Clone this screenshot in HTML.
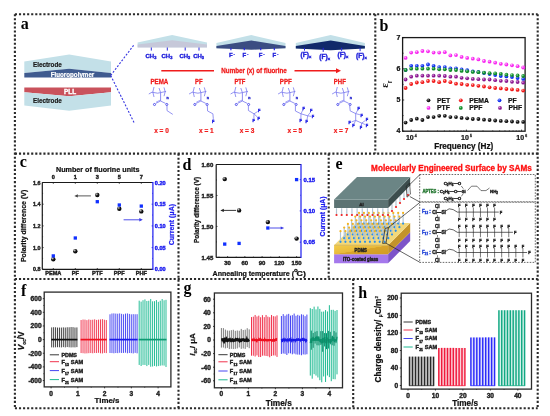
<!DOCTYPE html>
<html><head><meta charset="utf-8"><title>Figure</title>
<style>
html,body{margin:0;padding:0;background:#fff;overflow:hidden;}
svg{display:block;filter:blur(0.25px);}
</style></head><body>
<svg width="550" height="416" viewBox="0 0 550 416">
<defs>
<radialGradient id="sk" cx="0.38" cy="0.35" r="0.65"><stop offset="0" stop-color="#9a9a9a"/><stop offset="0.55" stop-color="#111111"/><stop offset="1" stop-color="#111111"/></radialGradient>
<radialGradient id="sr" cx="0.38" cy="0.35" r="0.65"><stop offset="0" stop-color="#ffb0b0"/><stop offset="0.55" stop-color="#f01818"/><stop offset="1" stop-color="#f01818"/></radialGradient>
<radialGradient id="sb" cx="0.38" cy="0.35" r="0.65"><stop offset="0" stop-color="#a0b0ff"/><stop offset="0.55" stop-color="#1030f0"/><stop offset="1" stop-color="#1030f0"/></radialGradient>
<radialGradient id="sm" cx="0.38" cy="0.35" r="0.65"><stop offset="0" stop-color="#ffc8ff"/><stop offset="0.55" stop-color="#f828f0"/><stop offset="1" stop-color="#f828f0"/></radialGradient>
<radialGradient id="sg" cx="0.38" cy="0.35" r="0.65"><stop offset="0" stop-color="#90e0a0"/><stop offset="0.55" stop-color="#108a28"/><stop offset="1" stop-color="#108a28"/></radialGradient>
<radialGradient id="sp" cx="0.38" cy="0.35" r="0.65"><stop offset="0" stop-color="#e0a0e0"/><stop offset="0.55" stop-color="#8a1890"/><stop offset="1" stop-color="#8a1890"/></radialGradient>
<radialGradient id="sk2" cx="0.35" cy="0.32" r="0.7"><stop offset="0" stop-color="#c8c8c8"/><stop offset="0.5" stop-color="#151515"/><stop offset="1" stop-color="#050505"/></radialGradient>
<linearGradient id="pdf" x1="0" y1="0" x2="1" y2="1"><stop offset="0" stop-color="#f2cc4a"/><stop offset="0.5" stop-color="#e8b93a"/><stop offset="0.52" stop-color="#d9a52a"/><stop offset="1" stop-color="#d29c24"/></linearGradient>
</defs>
<rect width="550" height="416" fill="#fff"/>
<line x1="14.9" y1="14.2" x2="537.7" y2="14.2" stroke="#2a2a2a" stroke-width="2.1" stroke-dasharray="2.1 1.97"/>
<line x1="14.9" y1="153.6" x2="537.7" y2="153.6" stroke="#2a2a2a" stroke-width="2.1" stroke-dasharray="2.1 1.97"/>
<line x1="14.9" y1="279" x2="537.7" y2="279" stroke="#2a2a2a" stroke-width="2.1" stroke-dasharray="2.1 1.97"/>
<line x1="14.9" y1="408.3" x2="537.7" y2="408.3" stroke="#2a2a2a" stroke-width="2.1" stroke-dasharray="2.1 1.97"/>
<line x1="14.9" y1="14.2" x2="14.9" y2="408.3" stroke="#2a2a2a" stroke-width="2.1" stroke-dasharray="2.1 1.97"/>
<line x1="537.7" y1="14.2" x2="537.7" y2="408.3" stroke="#2a2a2a" stroke-width="2.1" stroke-dasharray="2.1 1.97"/>
<line x1="375.3" y1="14.2" x2="375.3" y2="153.6" stroke="#2a2a2a" stroke-width="2.1" stroke-dasharray="2.1 1.97"/>
<line x1="178.5" y1="153.6" x2="178.5" y2="408.3" stroke="#2a2a2a" stroke-width="2.1" stroke-dasharray="2.1 1.97"/>
<line x1="328.7" y1="153.6" x2="328.7" y2="279" stroke="#2a2a2a" stroke-width="2.1" stroke-dasharray="2.1 1.97"/>
<line x1="353.2" y1="279" x2="353.2" y2="408.3" stroke="#2a2a2a" stroke-width="2.1" stroke-dasharray="2.1 1.97"/>
<text x="20.8" y="28.9" font-size="16" fill="#000" font-weight="bold" text-anchor="start" font-family='"Liberation Serif",serif' >a</text>
<text x="379.4" y="30.8" font-size="16" fill="#000" font-weight="bold" text-anchor="start" font-family='"Liberation Serif",serif' >b</text>
<text x="19.8" y="167.2" font-size="16" fill="#000" font-weight="bold" text-anchor="start" font-family='"Liberation Serif",serif' >c</text>
<text x="182.4" y="169.6" font-size="16" fill="#000" font-weight="bold" text-anchor="start" font-family='"Liberation Serif",serif' >d</text>
<text x="335.4" y="169.2" font-size="16" fill="#000" font-weight="bold" text-anchor="start" font-family='"Liberation Serif",serif' >e</text>
<text x="21" y="295.6" font-size="16" fill="#000" font-weight="bold" text-anchor="start" font-family='"Liberation Serif",serif' >f</text>
<text x="183.4" y="292.5" font-size="16" fill="#000" font-weight="bold" text-anchor="start" font-family='"Liberation Serif",serif' >g</text>
<text x="358.3" y="297.8" font-size="16" fill="#000" font-weight="bold" text-anchor="start" font-family='"Liberation Serif",serif' >h</text>
<polygon points="24.3,61.6 69.2,54.6 111,61.6 111,73 69.2,68.7 24.3,73" fill="#c3e0e8" />
<polygon points="24.3,73 69.2,68.7 111,73 111,77.6 24.3,77.6" fill="#3f5b8f" />
<polygon points="24.3,87.4 111,87.4 111,92.3 69.2,96.3 24.3,92.3" fill="#c9525c" />
<polygon points="24.3,92.3 69.2,96.3 111,92.3 111,105.6 69.2,110.8 24.3,105.6" fill="#c3e0e8" />
<text x="33" y="67.3" font-size="7" fill="#1a1a1a" stroke="#1a1a1a" stroke-width="0.22" font-weight="bold" text-anchor="start" font-family='"Liberation Sans",sans-serif' textLength="28.8" lengthAdjust="spacingAndGlyphs">Electrode</text>
<text x="50.7" y="76.6" font-size="7" fill="#fff" stroke="#fff" stroke-width="0.22" font-weight="bold" text-anchor="start" font-family='"Liberation Sans",sans-serif' textLength="43.6" lengthAdjust="spacingAndGlyphs">Fluoropolymer</text>
<text x="64" y="93.9" font-size="6.7" fill="#fff" stroke="#fff" stroke-width="0.4" font-weight="bold" text-anchor="start" font-family='"Liberation Sans",sans-serif' textLength="12.1" lengthAdjust="spacingAndGlyphs">PLL</text>
<text x="33" y="103" font-size="7" fill="#1a1a1a" stroke="#1a1a1a" stroke-width="0.22" font-weight="bold" text-anchor="start" font-family='"Liberation Sans",sans-serif' textLength="28.8" lengthAdjust="spacingAndGlyphs">Electrode</text>
<line x1="110.7" y1="75.5" x2="133.6" y2="45.3" stroke="#3535e0" stroke-width="1.1" stroke-dasharray="2 1.6"/>
<line x1="110.7" y1="75.5" x2="134.3" y2="123" stroke="#3535e0" stroke-width="1.1" stroke-dasharray="2 1.6"/>
<polygon points="137.6,42.4 172.1,35.1 207,42.4 207,47.3 137.6,47.3" fill="#c3e0e8" />
<polygon points="137.6,44.6 172.1,40.2 207,44.6 207,47.5 137.6,47.5" fill="#c6c8d9" />
<line x1="151.3" y1="47.5" x2="151.3" y2="50.6" stroke="#2626dc" stroke-width="1" />
<text x="150.9" y="57.7" font-size="6" fill="#2626dc" stroke="#2626dc" stroke-width="0.4" font-weight="bold" text-anchor="middle" font-family='"Liberation Sans",sans-serif' >CH<tspan font-size="3.9" dy="1">3</tspan></text>
<line x1="167.3" y1="47.5" x2="167.3" y2="50.6" stroke="#2626dc" stroke-width="1" />
<text x="166.9" y="57.7" font-size="6" fill="#2626dc" stroke="#2626dc" stroke-width="0.4" font-weight="bold" text-anchor="middle" font-family='"Liberation Sans",sans-serif' >CH<tspan font-size="3.9" dy="1">3</tspan></text>
<line x1="185.2" y1="47.5" x2="185.2" y2="50.6" stroke="#2626dc" stroke-width="1" />
<text x="184.8" y="57.7" font-size="6" fill="#2626dc" stroke="#2626dc" stroke-width="0.4" font-weight="bold" text-anchor="middle" font-family='"Liberation Sans",sans-serif' >CH<tspan font-size="3.9" dy="1">3</tspan></text>
<line x1="199" y1="47.5" x2="199" y2="50.6" stroke="#2626dc" stroke-width="1" />
<text x="198.6" y="57.7" font-size="6" fill="#2626dc" stroke="#2626dc" stroke-width="0.4" font-weight="bold" text-anchor="middle" font-family='"Liberation Sans",sans-serif' >CH<tspan font-size="3.9" dy="1">3</tspan></text>
<polygon points="216.4,43.1 251.3,35.1 285.5,43.1 285.5,48.2 216.4,48.2" fill="#c3e0e8" />
<polygon points="216.4,46 251.3,40.5 285.5,46 285.5,48.3 251.3,49.8 216.4,48.3" fill="#3b4d82" />
<line x1="230.9" y1="47.8" x2="230.9" y2="50.2" stroke="#2626dc" stroke-width="1.2" />
<text x="230.9" y="56.6" font-size="6" fill="#2626dc" stroke="#2626dc" stroke-width="0.4" font-weight="bold" text-anchor="middle" font-family='"Liberation Sans",sans-serif' >F</text>
<text x="234.2" y="54.6" font-size="4.2" fill="#6a6af0" stroke="#6a6af0" stroke-width="0.4" font-weight="bold" text-anchor="middle" font-family='"Liberation Sans",sans-serif' >-</text>
<line x1="244.3" y1="47.8" x2="244.3" y2="50.2" stroke="#2626dc" stroke-width="1.2" />
<text x="244.3" y="56.6" font-size="6" fill="#2626dc" stroke="#2626dc" stroke-width="0.4" font-weight="bold" text-anchor="middle" font-family='"Liberation Sans",sans-serif' >F</text>
<text x="247.6" y="54.6" font-size="4.2" fill="#6a6af0" stroke="#6a6af0" stroke-width="0.4" font-weight="bold" text-anchor="middle" font-family='"Liberation Sans",sans-serif' >-</text>
<line x1="260.7" y1="47.8" x2="260.7" y2="50.2" stroke="#2626dc" stroke-width="1.2" />
<text x="260.7" y="56.6" font-size="6" fill="#2626dc" stroke="#2626dc" stroke-width="0.4" font-weight="bold" text-anchor="middle" font-family='"Liberation Sans",sans-serif' >F</text>
<text x="264" y="54.6" font-size="4.2" fill="#6a6af0" stroke="#6a6af0" stroke-width="0.4" font-weight="bold" text-anchor="middle" font-family='"Liberation Sans",sans-serif' >-</text>
<line x1="274.3" y1="47.8" x2="274.3" y2="50.2" stroke="#2626dc" stroke-width="1.2" />
<text x="274.3" y="56.6" font-size="6" fill="#2626dc" stroke="#2626dc" stroke-width="0.4" font-weight="bold" text-anchor="middle" font-family='"Liberation Sans",sans-serif' >F</text>
<text x="277.6" y="54.6" font-size="4.2" fill="#6a6af0" stroke="#6a6af0" stroke-width="0.4" font-weight="bold" text-anchor="middle" font-family='"Liberation Sans",sans-serif' >-</text>
<polygon points="295.8,43.1 330.7,35.1 364.9,43.1 364.9,48.4 295.8,48.4" fill="#c3e0e8" />
<polygon points="295.8,46 330.7,40.5 364.9,46 364.9,48.6 330.7,50.2 295.8,48.6" fill="#11296a" />
<line x1="304.5" y1="47.8" x2="304.5" y2="50.6" stroke="#2626dc" stroke-width="1" />
<text x="305.9" y="56.6" font-size="6.6" fill="#2626dc" stroke="#2626dc" stroke-width="0.4" font-weight="bold" text-anchor="middle" font-family='"Liberation Sans",sans-serif' >(F)<tspan font-size="4.2" dy="1.2">x</tspan></text>
<line x1="323.2" y1="47.8" x2="323.2" y2="51.9" stroke="#2626dc" stroke-width="1" />
<text x="324.6" y="59.2" font-size="6.6" fill="#2626dc" stroke="#2626dc" stroke-width="0.4" font-weight="bold" text-anchor="middle" font-family='"Liberation Sans",sans-serif' >(F)<tspan font-size="4.2" dy="1.2">x</tspan></text>
<line x1="341.6" y1="47.8" x2="341.6" y2="50.9" stroke="#2626dc" stroke-width="1" />
<text x="343" y="57.2" font-size="6.6" fill="#2626dc" stroke="#2626dc" stroke-width="0.4" font-weight="bold" text-anchor="middle" font-family='"Liberation Sans",sans-serif' >(F)<tspan font-size="4.2" dy="1.2">x</tspan></text>
<line x1="360.1" y1="47.8" x2="360.1" y2="51.2" stroke="#2626dc" stroke-width="1" />
<text x="361.5" y="57.8" font-size="6.6" fill="#2626dc" stroke="#2626dc" stroke-width="0.4" font-weight="bold" text-anchor="middle" font-family='"Liberation Sans",sans-serif' >(F)<tspan font-size="4.2" dy="1.2">x</tspan></text>
<line x1="161.3" y1="70.8" x2="214" y2="70.8" stroke="#f01c1c" stroke-width="1.4" />
<text x="221.3" y="72.6" font-size="7.3" fill="#f01c1c" stroke="#f01c1c" font-weight="bold" text-anchor="start" font-family='"Liberation Sans",sans-serif' textLength="65.5" lengthAdjust="spacingAndGlyphs" stroke-width="0.3">Number (x) of fluorine</text>
<line x1="294.5" y1="70.8" x2="337" y2="70.8" stroke="#f01c1c" stroke-width="1.4" />
<polygon points="336,68.3 341,70.8 336,73.3" fill="#f01c1c" />
<text x="150.45" y="84.2" font-size="7.2" fill="#f01c1c" stroke="#f01c1c" font-weight="bold" text-anchor="start" font-family='"Liberation Sans",sans-serif' textLength="17.9" lengthAdjust="spacingAndGlyphs" stroke-width="0.3">PEMA</text>
<text x="195.05" y="84.2" font-size="7.2" fill="#f01c1c" stroke="#f01c1c" font-weight="bold" text-anchor="start" font-family='"Liberation Sans",sans-serif' textLength="7.5" lengthAdjust="spacingAndGlyphs" stroke-width="0.3">PF</text>
<text x="234.4" y="84.2" font-size="7.2" fill="#f01c1c" stroke="#f01c1c" font-weight="bold" text-anchor="start" font-family='"Liberation Sans",sans-serif' textLength="11" lengthAdjust="spacingAndGlyphs" stroke-width="0.3">PTF</text>
<text x="279.8" y="84.2" font-size="7.2" fill="#f01c1c" stroke="#f01c1c" font-weight="bold" text-anchor="start" font-family='"Liberation Sans",sans-serif' textLength="12" lengthAdjust="spacingAndGlyphs" stroke-width="0.3">PPF</text>
<text x="333.8" y="84.2" font-size="7.2" fill="#f01c1c" stroke="#f01c1c" font-weight="bold" text-anchor="start" font-family='"Liberation Sans",sans-serif' textLength="12" lengthAdjust="spacingAndGlyphs" stroke-width="0.3">PHF</text>
<text x="161.5" y="133.1" font-size="6.5" fill="#f01c1c" stroke="#f01c1c" font-weight="bold" text-anchor="middle" font-family='"Liberation Sans",sans-serif' stroke-width="0.2">x = 0</text>
<text x="206.3" y="133.1" font-size="6.5" fill="#f01c1c" stroke="#f01c1c" font-weight="bold" text-anchor="middle" font-family='"Liberation Sans",sans-serif' stroke-width="0.2">x = 1</text>
<text x="247" y="133.1" font-size="6.5" fill="#f01c1c" stroke="#f01c1c" font-weight="bold" text-anchor="middle" font-family='"Liberation Sans",sans-serif' stroke-width="0.2">x = 3</text>
<text x="294.8" y="133.1" font-size="6.5" fill="#f01c1c" stroke="#f01c1c" font-weight="bold" text-anchor="middle" font-family='"Liberation Sans",sans-serif' stroke-width="0.2">x = 5</text>
<text x="341" y="133.1" font-size="6.5" fill="#f01c1c" stroke="#f01c1c" font-weight="bold" text-anchor="middle" font-family='"Liberation Sans",sans-serif' stroke-width="0.2">x = 7</text>
<polyline points="148.8,94 152,92.2 157.6,93.2 160.6,92.6 166.1,91.4" fill="none" stroke="#7070ee" stroke-width="0.75" />
<line x1="159" y1="88" x2="160.6" y2="92.6" stroke="#7070ee" stroke-width="0.75" />
<path d="M154,87 q-2.4,5 0,10" fill="none" stroke="#7070ee" stroke-width="0.75"/>
<path d="M164,87.4 q2.4,4.4 0,8.8" fill="none" stroke="#7070ee" stroke-width="0.75"/>
<text x="166.4" y="98.6" font-size="3.6" fill="#3030d0" stroke="#3030d0" stroke-width="0.4" font-weight="bold" text-anchor="start" font-family='"Liberation Sans",sans-serif' >n</text>
<line x1="160.6" y1="92.6" x2="160.6" y2="101" stroke="#7070ee" stroke-width="0.8" />
<line x1="160.6" y1="101" x2="155.8" y2="103.4" stroke="#7070ee" stroke-width="0.75" />
<line x1="160.2" y1="100.1" x2="156" y2="102.2" stroke="#7070ee" stroke-width="0.6" />
<line x1="160.6" y1="101" x2="165.5" y2="103.4" stroke="#7070ee" stroke-width="0.75" />
<circle cx="154.5" cy="104.5" r="1.05" fill="none" stroke="#3c3ce8" stroke-width="0.85"/>
<circle cx="166.8" cy="104.5" r="1.05" fill="none" stroke="#3c3ce8" stroke-width="0.85"/>
<polyline points="167,105.8 167,110.6 172.8,114.4" fill="none" stroke="#7070ee" stroke-width="0.75" />
<polyline points="189.1,94 192.3,92.2 197.9,93.2 200.9,92.6 206.4,91.4" fill="none" stroke="#7070ee" stroke-width="0.75" />
<line x1="199.3" y1="88" x2="200.9" y2="92.6" stroke="#7070ee" stroke-width="0.75" />
<path d="M194.3,87 q-2.4,5 0,10" fill="none" stroke="#7070ee" stroke-width="0.75"/>
<path d="M204.3,87.4 q2.4,4.4 0,8.8" fill="none" stroke="#7070ee" stroke-width="0.75"/>
<text x="206.7" y="98.6" font-size="3.6" fill="#3030d0" stroke="#3030d0" stroke-width="0.4" font-weight="bold" text-anchor="start" font-family='"Liberation Sans",sans-serif' >n</text>
<line x1="200.9" y1="92.6" x2="200.9" y2="101" stroke="#7070ee" stroke-width="0.8" />
<line x1="200.9" y1="101" x2="196.1" y2="103.4" stroke="#7070ee" stroke-width="0.75" />
<line x1="200.5" y1="100.1" x2="196.3" y2="102.2" stroke="#7070ee" stroke-width="0.6" />
<line x1="200.9" y1="101" x2="205.8" y2="103.4" stroke="#7070ee" stroke-width="0.75" />
<circle cx="194.8" cy="104.5" r="1.05" fill="none" stroke="#3c3ce8" stroke-width="0.85"/>
<circle cx="207.1" cy="104.5" r="1.05" fill="none" stroke="#3c3ce8" stroke-width="0.85"/>
<polyline points="207.3,105.8 207.6,111 212.9,113.8 213.3,118.6" fill="none" stroke="#7070ee" stroke-width="0.75" />
<line x1="213.3" y1="118.6" x2="213.16" y2="120.35" stroke="#7070ee" stroke-width="0.7" />
<text x="213.1" y="122.5" font-size="3.9" fill="#2424e6" stroke="#2424e6" stroke-width="0.4" font-weight="bold" text-anchor="middle" font-family='"Liberation Sans",sans-serif' >F</text>
<polyline points="230.6,94 233.8,92.2 239.4,93.2 242.4,92.6 247.9,91.4" fill="none" stroke="#7070ee" stroke-width="0.75" />
<line x1="240.8" y1="88" x2="242.4" y2="92.6" stroke="#7070ee" stroke-width="0.75" />
<path d="M235.8,87 q-2.4,5 0,10" fill="none" stroke="#7070ee" stroke-width="0.75"/>
<path d="M245.8,87.4 q2.4,4.4 0,8.8" fill="none" stroke="#7070ee" stroke-width="0.75"/>
<text x="248.2" y="98.6" font-size="3.6" fill="#3030d0" stroke="#3030d0" stroke-width="0.4" font-weight="bold" text-anchor="start" font-family='"Liberation Sans",sans-serif' >n</text>
<line x1="242.4" y1="92.6" x2="242.4" y2="101" stroke="#7070ee" stroke-width="0.8" />
<line x1="242.4" y1="101" x2="237.6" y2="103.4" stroke="#7070ee" stroke-width="0.75" />
<line x1="242" y1="100.1" x2="237.8" y2="102.2" stroke="#7070ee" stroke-width="0.6" />
<line x1="242.4" y1="101" x2="247.3" y2="103.4" stroke="#7070ee" stroke-width="0.75" />
<circle cx="236.3" cy="104.5" r="1.05" fill="none" stroke="#3c3ce8" stroke-width="0.85"/>
<circle cx="248.6" cy="104.5" r="1.05" fill="none" stroke="#3c3ce8" stroke-width="0.85"/>
<polyline points="248.4,105.8 248.4,110.5 254,113.8" fill="none" stroke="#7070ee" stroke-width="0.75" />
<line x1="254" y1="113.8" x2="257.71" y2="111.49" stroke="#7070ee" stroke-width="0.7" />
<text x="259.3" y="111.9" font-size="3.9" fill="#2424e6" stroke="#2424e6" stroke-width="0.4" font-weight="bold" text-anchor="middle" font-family='"Liberation Sans",sans-serif' >F</text>
<line x1="254" y1="113.8" x2="257.22" y2="116.88" stroke="#7070ee" stroke-width="0.7" />
<text x="258.6" y="119.6" font-size="3.9" fill="#2424e6" stroke="#2424e6" stroke-width="0.4" font-weight="bold" text-anchor="middle" font-family='"Liberation Sans",sans-serif' >F</text>
<line x1="254" y1="113.8" x2="253.86" y2="118.21" stroke="#7070ee" stroke-width="0.7" />
<text x="253.8" y="121.5" font-size="3.9" fill="#2424e6" stroke="#2424e6" stroke-width="0.4" font-weight="bold" text-anchor="middle" font-family='"Liberation Sans",sans-serif' >F</text>
<polyline points="278.1,94 281.3,92.2 286.9,93.2 289.9,92.6 295.4,91.4" fill="none" stroke="#7070ee" stroke-width="0.75" />
<line x1="288.3" y1="88" x2="289.9" y2="92.6" stroke="#7070ee" stroke-width="0.75" />
<path d="M283.3,87 q-2.4,5 0,10" fill="none" stroke="#7070ee" stroke-width="0.75"/>
<path d="M293.3,87.4 q2.4,4.4 0,8.8" fill="none" stroke="#7070ee" stroke-width="0.75"/>
<text x="295.7" y="98.6" font-size="3.6" fill="#3030d0" stroke="#3030d0" stroke-width="0.4" font-weight="bold" text-anchor="start" font-family='"Liberation Sans",sans-serif' >n</text>
<line x1="289.9" y1="92.6" x2="289.9" y2="101" stroke="#7070ee" stroke-width="0.8" />
<line x1="289.9" y1="101" x2="285.1" y2="103.4" stroke="#7070ee" stroke-width="0.75" />
<line x1="289.5" y1="100.1" x2="285.3" y2="102.2" stroke="#7070ee" stroke-width="0.6" />
<line x1="289.9" y1="101" x2="294.8" y2="103.4" stroke="#7070ee" stroke-width="0.75" />
<circle cx="283.8" cy="104.5" r="1.05" fill="none" stroke="#3c3ce8" stroke-width="0.85"/>
<circle cx="296.1" cy="104.5" r="1.05" fill="none" stroke="#3c3ce8" stroke-width="0.85"/>
<polyline points="295.4,105.8 295.4,111 301,113.8 307.7,115.8" fill="none" stroke="#7070ee" stroke-width="0.75" />
<line x1="301" y1="113.8" x2="302.89" y2="109.81" stroke="#7070ee" stroke-width="0.7" />
<text x="303.7" y="109.5" font-size="3.9" fill="#2424e6" stroke="#2424e6" stroke-width="0.4" font-weight="bold" text-anchor="middle" font-family='"Liberation Sans",sans-serif' >F</text>
<line x1="301" y1="113.8" x2="300.86" y2="118.56" stroke="#7070ee" stroke-width="0.7" />
<text x="300.8" y="122" font-size="3.9" fill="#2424e6" stroke="#2424e6" stroke-width="0.4" font-weight="bold" text-anchor="middle" font-family='"Liberation Sans",sans-serif' >F</text>
<line x1="307.7" y1="115.8" x2="310.22" y2="112.44" stroke="#7070ee" stroke-width="0.7" />
<text x="311.3" y="112.4" font-size="3.9" fill="#2424e6" stroke="#2424e6" stroke-width="0.4" font-weight="bold" text-anchor="middle" font-family='"Liberation Sans",sans-serif' >F</text>
<line x1="307.7" y1="115.8" x2="311.41" y2="116.43" stroke="#7070ee" stroke-width="0.7" />
<text x="313" y="118.1" font-size="3.9" fill="#2424e6" stroke="#2424e6" stroke-width="0.4" font-weight="bold" text-anchor="middle" font-family='"Liberation Sans",sans-serif' >F</text>
<line x1="307.7" y1="115.8" x2="307" y2="119.79" stroke="#7070ee" stroke-width="0.7" />
<text x="306.7" y="122.9" font-size="3.9" fill="#2424e6" stroke="#2424e6" stroke-width="0.4" font-weight="bold" text-anchor="middle" font-family='"Liberation Sans",sans-serif' >F</text>
<polyline points="332.1,94 335.3,92.2 340.9,93.2 343.9,92.6 349.4,91.4" fill="none" stroke="#7070ee" stroke-width="0.75" />
<line x1="342.3" y1="88" x2="343.9" y2="92.6" stroke="#7070ee" stroke-width="0.75" />
<path d="M337.3,87 q-2.4,5 0,10" fill="none" stroke="#7070ee" stroke-width="0.75"/>
<path d="M347.3,87.4 q2.4,4.4 0,8.8" fill="none" stroke="#7070ee" stroke-width="0.75"/>
<text x="349.7" y="98.6" font-size="3.6" fill="#3030d0" stroke="#3030d0" stroke-width="0.4" font-weight="bold" text-anchor="start" font-family='"Liberation Sans",sans-serif' >n</text>
<line x1="343.9" y1="92.6" x2="343.9" y2="101" stroke="#7070ee" stroke-width="0.8" />
<line x1="343.9" y1="101" x2="339.1" y2="103.4" stroke="#7070ee" stroke-width="0.75" />
<line x1="343.5" y1="100.1" x2="339.3" y2="102.2" stroke="#7070ee" stroke-width="0.6" />
<line x1="343.9" y1="101" x2="348.8" y2="103.4" stroke="#7070ee" stroke-width="0.75" />
<circle cx="337.8" cy="104.5" r="1.05" fill="none" stroke="#3c3ce8" stroke-width="0.85"/>
<circle cx="350.1" cy="104.5" r="1.05" fill="none" stroke="#3c3ce8" stroke-width="0.85"/>
<polyline points="349.7,105.8 350.2,110.9 355.7,113.6 355.7,120.4 361.7,123.1" fill="none" stroke="#7070ee" stroke-width="0.75" />
<line x1="355.7" y1="113.6" x2="357.8" y2="109.89" stroke="#7070ee" stroke-width="0.7" />
<text x="358.7" y="109.7" font-size="3.9" fill="#2424e6" stroke="#2424e6" stroke-width="0.4" font-weight="bold" text-anchor="middle" font-family='"Liberation Sans",sans-serif' >F</text>
<line x1="355.7" y1="113.6" x2="359.9" y2="114.72" stroke="#7070ee" stroke-width="0.7" />
<text x="361.7" y="116.6" font-size="3.9" fill="#2424e6" stroke="#2424e6" stroke-width="0.4" font-weight="bold" text-anchor="middle" font-family='"Liberation Sans",sans-serif' >F</text>
<line x1="355.7" y1="120.4" x2="351.5" y2="121.94" stroke="#7070ee" stroke-width="0.7" />
<text x="349.7" y="124" font-size="3.9" fill="#2424e6" stroke="#2424e6" stroke-width="0.4" font-weight="bold" text-anchor="middle" font-family='"Liberation Sans",sans-serif' >F</text>
<line x1="355.7" y1="120.4" x2="354.09" y2="123.76" stroke="#7070ee" stroke-width="0.7" />
<text x="353.4" y="126.6" font-size="3.9" fill="#2424e6" stroke="#2424e6" stroke-width="0.4" font-weight="bold" text-anchor="middle" font-family='"Liberation Sans",sans-serif' >F</text>
<line x1="361.7" y1="123.1" x2="365.34" y2="120.51" stroke="#7070ee" stroke-width="0.7" />
<text x="366.9" y="120.8" font-size="3.9" fill="#2424e6" stroke="#2424e6" stroke-width="0.4" font-weight="bold" text-anchor="middle" font-family='"Liberation Sans",sans-serif' >F</text>
<line x1="361.7" y1="123.1" x2="365.34" y2="124.57" stroke="#7070ee" stroke-width="0.7" />
<text x="366.9" y="126.6" font-size="3.9" fill="#2424e6" stroke="#2424e6" stroke-width="0.4" font-weight="bold" text-anchor="middle" font-family='"Liberation Sans",sans-serif' >F</text>
<line x1="361.7" y1="123.1" x2="361.21" y2="126.46" stroke="#7070ee" stroke-width="0.7" />
<text x="361" y="129.3" font-size="3.9" fill="#2424e6" stroke="#2424e6" stroke-width="0.4" font-weight="bold" text-anchor="middle" font-family='"Liberation Sans",sans-serif' >F</text>
<rect x="402.6" y="37.6" width="122.5" height="93.6" fill="none" stroke="#1a1a1a" stroke-width="1.3"/>
<text x="400.4" y="133.4" font-size="7" fill="#111" stroke="#111" stroke-width="0.22" font-weight="bold" text-anchor="end" font-family='"Liberation Sans",sans-serif' >4</text>
<line x1="402.6" y1="131.2" x2="404.2" y2="131.2" stroke="#111" stroke-width="0.8" />
<text x="400.4" y="102.2" font-size="7" fill="#111" stroke="#111" stroke-width="0.22" font-weight="bold" text-anchor="end" font-family='"Liberation Sans",sans-serif' >5</text>
<line x1="402.6" y1="100" x2="404.2" y2="100" stroke="#111" stroke-width="0.8" />
<text x="400.4" y="71" font-size="7" fill="#111" stroke="#111" stroke-width="0.22" font-weight="bold" text-anchor="end" font-family='"Liberation Sans",sans-serif' >6</text>
<line x1="402.6" y1="68.8" x2="404.2" y2="68.8" stroke="#111" stroke-width="0.8" />
<text x="400.4" y="39.8" font-size="7" fill="#111" stroke="#111" stroke-width="0.22" font-weight="bold" text-anchor="end" font-family='"Liberation Sans",sans-serif' >7</text>
<line x1="402.6" y1="37.6" x2="404.2" y2="37.6" stroke="#111" stroke-width="0.8" />
<line x1="402.6" y1="115.6" x2="403.6" y2="115.6" stroke="#111" stroke-width="0.7" />
<line x1="402.6" y1="84.4" x2="403.6" y2="84.4" stroke="#111" stroke-width="0.7" />
<line x1="402.6" y1="53.2" x2="403.6" y2="53.2" stroke="#111" stroke-width="0.7" />
<line x1="411.2" y1="131.2" x2="411.2" y2="129.6" stroke="#111" stroke-width="0.8" />
<text x="409.8" y="140" font-size="7" fill="#111" stroke="#111" stroke-width="0.22" font-weight="bold" text-anchor="middle" font-family='"Liberation Sans",sans-serif' >10</text>
<text x="415.8" y="136.6" font-size="3.4" fill="#444" stroke="#444" stroke-width="0.4" font-weight="bold" text-anchor="middle" font-family='"Liberation Sans",sans-serif' >4</text>
<line x1="466.4" y1="131.2" x2="466.4" y2="129.6" stroke="#111" stroke-width="0.8" />
<text x="465" y="140" font-size="7" fill="#111" stroke="#111" stroke-width="0.22" font-weight="bold" text-anchor="middle" font-family='"Liberation Sans",sans-serif' >10</text>
<text x="471" y="136.6" font-size="3.4" fill="#444" stroke="#444" stroke-width="0.4" font-weight="bold" text-anchor="middle" font-family='"Liberation Sans",sans-serif' >5</text>
<line x1="521.6" y1="131.2" x2="521.6" y2="129.6" stroke="#111" stroke-width="0.8" />
<text x="520.2" y="140" font-size="7" fill="#111" stroke="#111" stroke-width="0.22" font-weight="bold" text-anchor="middle" font-family='"Liberation Sans",sans-serif' >10</text>
<text x="526.2" y="136.6" font-size="3.4" fill="#444" stroke="#444" stroke-width="0.4" font-weight="bold" text-anchor="middle" font-family='"Liberation Sans",sans-serif' >6</text>
<line x1="427.82" y1="131.2" x2="427.82" y2="130.3" stroke="#111" stroke-width="0.6" />
<line x1="437.54" y1="131.2" x2="437.54" y2="130.3" stroke="#111" stroke-width="0.6" />
<line x1="444.43" y1="131.2" x2="444.43" y2="130.3" stroke="#111" stroke-width="0.6" />
<line x1="449.78" y1="131.2" x2="449.78" y2="130.3" stroke="#111" stroke-width="0.6" />
<line x1="454.15" y1="131.2" x2="454.15" y2="130.3" stroke="#111" stroke-width="0.6" />
<line x1="457.85" y1="131.2" x2="457.85" y2="130.3" stroke="#111" stroke-width="0.6" />
<line x1="461.05" y1="131.2" x2="461.05" y2="130.3" stroke="#111" stroke-width="0.6" />
<line x1="463.87" y1="131.2" x2="463.87" y2="130.3" stroke="#111" stroke-width="0.6" />
<line x1="483.02" y1="131.2" x2="483.02" y2="130.3" stroke="#111" stroke-width="0.6" />
<line x1="492.74" y1="131.2" x2="492.74" y2="130.3" stroke="#111" stroke-width="0.6" />
<line x1="499.63" y1="131.2" x2="499.63" y2="130.3" stroke="#111" stroke-width="0.6" />
<line x1="504.98" y1="131.2" x2="504.98" y2="130.3" stroke="#111" stroke-width="0.6" />
<line x1="509.35" y1="131.2" x2="509.35" y2="130.3" stroke="#111" stroke-width="0.6" />
<line x1="513.05" y1="131.2" x2="513.05" y2="130.3" stroke="#111" stroke-width="0.6" />
<line x1="516.25" y1="131.2" x2="516.25" y2="130.3" stroke="#111" stroke-width="0.6" />
<line x1="519.07" y1="131.2" x2="519.07" y2="130.3" stroke="#111" stroke-width="0.6" />
<text x="463.7" y="148.6" font-size="8.2" fill="#111" stroke="#111" stroke-width="0.22" font-weight="bold" text-anchor="middle" font-family='"Liberation Sans",sans-serif' >Frequency (Hz)</text>
<text transform="translate(388.3,84.2) rotate(-90)" font-family='"Liberation Serif",serif' font-size="10.5" font-weight="bold" fill="#111" text-anchor="middle">ε<tspan font-size="7" dy="3.2" font-family='"Liberation Sans",sans-serif' font-weight="bold">r</tspan></text>
<circle cx="405.6" cy="122.6" r="1.9" fill="url(#sk)"/>
<circle cx="411.2" cy="120" r="1.9" fill="url(#sk)"/>
<circle cx="416.8" cy="118.7" r="1.9" fill="url(#sk)"/>
<circle cx="422.4" cy="120" r="1.9" fill="url(#sk)"/>
<circle cx="428" cy="117.1" r="1.9" fill="url(#sk)"/>
<circle cx="433.6" cy="117.1" r="1.9" fill="url(#sk)"/>
<circle cx="439.2" cy="115.8" r="1.9" fill="url(#sk)"/>
<circle cx="444.8" cy="115.8" r="1.9" fill="url(#sk)"/>
<circle cx="450.4" cy="117.1" r="1.9" fill="url(#sk)"/>
<circle cx="456" cy="117.1" r="1.9" fill="url(#sk)"/>
<circle cx="461.6" cy="117.9" r="1.9" fill="url(#sk)"/>
<circle cx="467.2" cy="118.3" r="1.9" fill="url(#sk)"/>
<circle cx="472.8" cy="119" r="1.9" fill="url(#sk)"/>
<circle cx="478.4" cy="119" r="1.9" fill="url(#sk)"/>
<circle cx="484" cy="119.7" r="1.9" fill="url(#sk)"/>
<circle cx="489.6" cy="120" r="1.9" fill="url(#sk)"/>
<circle cx="495.2" cy="120.5" r="1.9" fill="url(#sk)"/>
<circle cx="500.8" cy="120.9" r="1.9" fill="url(#sk)"/>
<circle cx="506.4" cy="121.2" r="1.9" fill="url(#sk)"/>
<circle cx="512" cy="121.5" r="1.9" fill="url(#sk)"/>
<circle cx="517.6" cy="121.9" r="1.9" fill="url(#sk)"/>
<circle cx="523.2" cy="121.9" r="1.9" fill="url(#sk)"/>
<circle cx="405.6" cy="88" r="1.9" fill="url(#sr)"/>
<circle cx="411.2" cy="84" r="1.9" fill="url(#sr)"/>
<circle cx="416.8" cy="82.5" r="1.9" fill="url(#sr)"/>
<circle cx="422.4" cy="82.2" r="1.9" fill="url(#sr)"/>
<circle cx="428" cy="81" r="1.9" fill="url(#sr)"/>
<circle cx="433.6" cy="81" r="1.9" fill="url(#sr)"/>
<circle cx="439.2" cy="82.2" r="1.9" fill="url(#sr)"/>
<circle cx="444.8" cy="81" r="1.9" fill="url(#sr)"/>
<circle cx="450.4" cy="82.2" r="1.9" fill="url(#sr)"/>
<circle cx="456" cy="83.7" r="1.9" fill="url(#sr)"/>
<circle cx="461.6" cy="84" r="1.9" fill="url(#sr)"/>
<circle cx="467.2" cy="84.8" r="1.9" fill="url(#sr)"/>
<circle cx="472.8" cy="85.1" r="1.9" fill="url(#sr)"/>
<circle cx="478.4" cy="85.8" r="1.9" fill="url(#sr)"/>
<circle cx="484" cy="86.5" r="1.9" fill="url(#sr)"/>
<circle cx="489.6" cy="87.3" r="1.9" fill="url(#sr)"/>
<circle cx="495.2" cy="88" r="1.9" fill="url(#sr)"/>
<circle cx="500.8" cy="88.4" r="1.9" fill="url(#sr)"/>
<circle cx="506.4" cy="89" r="1.9" fill="url(#sr)"/>
<circle cx="512" cy="89.4" r="1.9" fill="url(#sr)"/>
<circle cx="517.6" cy="89.9" r="1.9" fill="url(#sr)"/>
<circle cx="523.2" cy="90.6" r="1.9" fill="url(#sr)"/>
<circle cx="405.6" cy="70" r="1.9" fill="url(#sb)"/>
<circle cx="411.2" cy="65.8" r="1.9" fill="url(#sb)"/>
<circle cx="416.8" cy="65.8" r="1.9" fill="url(#sb)"/>
<circle cx="422.4" cy="65.8" r="1.9" fill="url(#sb)"/>
<circle cx="428" cy="64.5" r="1.9" fill="url(#sb)"/>
<circle cx="433.6" cy="65.8" r="1.9" fill="url(#sb)"/>
<circle cx="439.2" cy="67.1" r="1.9" fill="url(#sb)"/>
<circle cx="444.8" cy="67.1" r="1.9" fill="url(#sb)"/>
<circle cx="450.4" cy="68.3" r="1.9" fill="url(#sb)"/>
<circle cx="456" cy="68.3" r="1.9" fill="url(#sb)"/>
<circle cx="461.6" cy="69.4" r="1.9" fill="url(#sb)"/>
<circle cx="467.2" cy="70.2" r="1.9" fill="url(#sb)"/>
<circle cx="472.8" cy="71.3" r="1.9" fill="url(#sb)"/>
<circle cx="478.4" cy="72" r="1.9" fill="url(#sb)"/>
<circle cx="484" cy="73" r="1.9" fill="url(#sb)"/>
<circle cx="489.6" cy="74" r="1.9" fill="url(#sb)"/>
<circle cx="495.2" cy="75.1" r="1.9" fill="url(#sb)"/>
<circle cx="500.8" cy="76" r="1.9" fill="url(#sb)"/>
<circle cx="506.4" cy="76.4" r="1.9" fill="url(#sb)"/>
<circle cx="512" cy="77" r="1.9" fill="url(#sb)"/>
<circle cx="517.6" cy="78" r="1.9" fill="url(#sb)"/>
<circle cx="523.2" cy="78.9" r="1.9" fill="url(#sb)"/>
<circle cx="405.6" cy="57.9" r="1.9" fill="url(#sm)"/>
<circle cx="411.2" cy="52.6" r="1.9" fill="url(#sm)"/>
<circle cx="416.8" cy="52.2" r="1.9" fill="url(#sm)"/>
<circle cx="422.4" cy="51" r="1.9" fill="url(#sm)"/>
<circle cx="428" cy="51.3" r="1.9" fill="url(#sm)"/>
<circle cx="433.6" cy="52.6" r="1.9" fill="url(#sm)"/>
<circle cx="439.2" cy="52.6" r="1.9" fill="url(#sm)"/>
<circle cx="444.8" cy="52.2" r="1.9" fill="url(#sm)"/>
<circle cx="450.4" cy="55.4" r="1.9" fill="url(#sm)"/>
<circle cx="456" cy="55.1" r="1.9" fill="url(#sm)"/>
<circle cx="461.6" cy="56.9" r="1.9" fill="url(#sm)"/>
<circle cx="467.2" cy="57.9" r="1.9" fill="url(#sm)"/>
<circle cx="472.8" cy="58.7" r="1.9" fill="url(#sm)"/>
<circle cx="478.4" cy="59.4" r="1.9" fill="url(#sm)"/>
<circle cx="484" cy="61" r="1.9" fill="url(#sm)"/>
<circle cx="489.6" cy="61.7" r="1.9" fill="url(#sm)"/>
<circle cx="495.2" cy="62.7" r="1.9" fill="url(#sm)"/>
<circle cx="500.8" cy="63.8" r="1.9" fill="url(#sm)"/>
<circle cx="506.4" cy="64.5" r="1.9" fill="url(#sm)"/>
<circle cx="512" cy="65.3" r="1.9" fill="url(#sm)"/>
<circle cx="517.6" cy="66.2" r="1.9" fill="url(#sm)"/>
<circle cx="523.2" cy="67.5" r="1.9" fill="url(#sm)"/>
<circle cx="405.6" cy="70" r="1.9" fill="url(#sg)"/>
<circle cx="411.2" cy="68.7" r="1.9" fill="url(#sg)"/>
<circle cx="416.8" cy="68.7" r="1.9" fill="url(#sg)"/>
<circle cx="422.4" cy="68.7" r="1.9" fill="url(#sg)"/>
<circle cx="428" cy="68.7" r="1.9" fill="url(#sg)"/>
<circle cx="433.6" cy="68.7" r="1.9" fill="url(#sg)"/>
<circle cx="439.2" cy="69.3" r="1.9" fill="url(#sg)"/>
<circle cx="444.8" cy="69.3" r="1.9" fill="url(#sg)"/>
<circle cx="450.4" cy="70" r="1.9" fill="url(#sg)"/>
<circle cx="456" cy="70" r="1.9" fill="url(#sg)"/>
<circle cx="461.6" cy="70.9" r="1.9" fill="url(#sg)"/>
<circle cx="467.2" cy="71.3" r="1.9" fill="url(#sg)"/>
<circle cx="472.8" cy="71.9" r="1.9" fill="url(#sg)"/>
<circle cx="478.4" cy="72.2" r="1.9" fill="url(#sg)"/>
<circle cx="484" cy="72.7" r="1.9" fill="url(#sg)"/>
<circle cx="489.6" cy="73.2" r="1.9" fill="url(#sg)"/>
<circle cx="495.2" cy="73.4" r="1.9" fill="url(#sg)"/>
<circle cx="500.8" cy="73.8" r="1.9" fill="url(#sg)"/>
<circle cx="506.4" cy="74.7" r="1.9" fill="url(#sg)"/>
<circle cx="512" cy="75.1" r="1.9" fill="url(#sg)"/>
<circle cx="517.6" cy="75.5" r="1.9" fill="url(#sg)"/>
<circle cx="523.2" cy="76" r="1.9" fill="url(#sg)"/>
<circle cx="405.6" cy="79.5" r="1.9" fill="url(#sp)"/>
<circle cx="411.2" cy="76.7" r="1.9" fill="url(#sp)"/>
<circle cx="416.8" cy="75.7" r="1.9" fill="url(#sp)"/>
<circle cx="422.4" cy="75.7" r="1.9" fill="url(#sp)"/>
<circle cx="428" cy="75.7" r="1.9" fill="url(#sp)"/>
<circle cx="433.6" cy="75.7" r="1.9" fill="url(#sp)"/>
<circle cx="439.2" cy="75.7" r="1.9" fill="url(#sp)"/>
<circle cx="444.8" cy="76" r="1.9" fill="url(#sp)"/>
<circle cx="450.4" cy="76.7" r="1.9" fill="url(#sp)"/>
<circle cx="456" cy="76.7" r="1.9" fill="url(#sp)"/>
<circle cx="461.6" cy="77.8" r="1.9" fill="url(#sp)"/>
<circle cx="467.2" cy="78.3" r="1.9" fill="url(#sp)"/>
<circle cx="472.8" cy="78.9" r="1.9" fill="url(#sp)"/>
<circle cx="478.4" cy="79.2" r="1.9" fill="url(#sp)"/>
<circle cx="484" cy="79.5" r="1.9" fill="url(#sp)"/>
<circle cx="489.6" cy="79.5" r="1.9" fill="url(#sp)"/>
<circle cx="495.2" cy="80.2" r="1.9" fill="url(#sp)"/>
<circle cx="500.8" cy="80.8" r="1.9" fill="url(#sp)"/>
<circle cx="506.4" cy="81" r="1.9" fill="url(#sp)"/>
<circle cx="512" cy="81.8" r="1.9" fill="url(#sp)"/>
<circle cx="517.6" cy="82" r="1.9" fill="url(#sp)"/>
<circle cx="523.2" cy="82.7" r="1.9" fill="url(#sp)"/>
<circle cx="428.5" cy="100.3" r="1.9" fill="url(#sk)"/>
<text x="437" y="102.6" font-size="6.8" fill="#111" stroke="#111" stroke-width="0.22" font-weight="bold" text-anchor="start" font-family='"Liberation Sans",sans-serif' >PET</text>
<circle cx="460.8" cy="100.3" r="1.9" fill="url(#sr)"/>
<text x="469.3" y="102.6" font-size="6.8" fill="#111" stroke="#111" stroke-width="0.22" font-weight="bold" text-anchor="start" font-family='"Liberation Sans",sans-serif' >PEMA</text>
<circle cx="499.5" cy="100.3" r="1.9" fill="url(#sb)"/>
<text x="508" y="102.6" font-size="6.8" fill="#111" stroke="#111" stroke-width="0.22" font-weight="bold" text-anchor="start" font-family='"Liberation Sans",sans-serif' >PF</text>
<circle cx="428.5" cy="107.9" r="1.9" fill="url(#sm)"/>
<text x="437" y="110.2" font-size="6.8" fill="#111" stroke="#111" stroke-width="0.22" font-weight="bold" text-anchor="start" font-family='"Liberation Sans",sans-serif' >PTF</text>
<circle cx="460.8" cy="107.9" r="1.9" fill="url(#sg)"/>
<text x="469.3" y="110.2" font-size="6.8" fill="#111" stroke="#111" stroke-width="0.22" font-weight="bold" text-anchor="start" font-family='"Liberation Sans",sans-serif' >PPF</text>
<circle cx="500" cy="107.9" r="1.9" fill="url(#sp)"/>
<text x="508.5" y="110.2" font-size="6.8" fill="#111" stroke="#111" stroke-width="0.22" font-weight="bold" text-anchor="start" font-family='"Liberation Sans",sans-serif' >PHF</text>
<line x1="42.3" y1="182.5" x2="152.9" y2="182.5" stroke="#1a1a1a" stroke-width="1.2" />
<line x1="42.3" y1="182.5" x2="42.3" y2="269.3" stroke="#1a1a1a" stroke-width="1.2" />
<line x1="42.3" y1="269.3" x2="152.9" y2="269.3" stroke="#1a1a1a" stroke-width="1.2" />
<line x1="152.9" y1="181.9" x2="152.9" y2="269.9" stroke="#1c1cf0" stroke-width="1.2" />
<line x1="42.3" y1="269.3" x2="43.6" y2="269.3" stroke="#1a1a1a" stroke-width="0.8" />
<text x="40.4" y="271.3" font-size="5.4" fill="#222" stroke="#222" stroke-width="0.4" font-weight="bold" text-anchor="end" font-family='"Liberation Sans",sans-serif' >0.8</text>
<line x1="42.3" y1="247.6" x2="43.6" y2="247.6" stroke="#1a1a1a" stroke-width="0.8" />
<text x="40.4" y="249.6" font-size="5.4" fill="#222" stroke="#222" stroke-width="0.4" font-weight="bold" text-anchor="end" font-family='"Liberation Sans",sans-serif' >1.0</text>
<line x1="42.3" y1="225.9" x2="43.6" y2="225.9" stroke="#1a1a1a" stroke-width="0.8" />
<text x="40.4" y="227.9" font-size="5.4" fill="#222" stroke="#222" stroke-width="0.4" font-weight="bold" text-anchor="end" font-family='"Liberation Sans",sans-serif' >1.2</text>
<line x1="42.3" y1="204.2" x2="43.6" y2="204.2" stroke="#1a1a1a" stroke-width="0.8" />
<text x="40.4" y="206.2" font-size="5.4" fill="#222" stroke="#222" stroke-width="0.4" font-weight="bold" text-anchor="end" font-family='"Liberation Sans",sans-serif' >1.4</text>
<line x1="42.3" y1="182.5" x2="43.6" y2="182.5" stroke="#1a1a1a" stroke-width="0.8" />
<text x="40.4" y="184.5" font-size="5.4" fill="#222" stroke="#222" stroke-width="0.4" font-weight="bold" text-anchor="end" font-family='"Liberation Sans",sans-serif' >1.6</text>
<line x1="42.3" y1="258.45" x2="43.1" y2="258.45" stroke="#1a1a1a" stroke-width="0.7" />
<line x1="42.3" y1="236.75" x2="43.1" y2="236.75" stroke="#1a1a1a" stroke-width="0.7" />
<line x1="42.3" y1="215.05" x2="43.1" y2="215.05" stroke="#1a1a1a" stroke-width="0.7" />
<line x1="42.3" y1="193.35" x2="43.1" y2="193.35" stroke="#1a1a1a" stroke-width="0.7" />
<line x1="151.6" y1="269.3" x2="152.9" y2="269.3" stroke="#1c1cf0" stroke-width="0.8" />
<text x="154.8" y="271.3" font-size="5.6" fill="#1c1cf0" stroke="#1c1cf0" stroke-width="0.4" font-weight="bold" text-anchor="start" font-family='"Liberation Sans",sans-serif' >0.00</text>
<line x1="151.6" y1="247.6" x2="152.9" y2="247.6" stroke="#1c1cf0" stroke-width="0.8" />
<text x="154.8" y="249.6" font-size="5.6" fill="#1c1cf0" stroke="#1c1cf0" stroke-width="0.4" font-weight="bold" text-anchor="start" font-family='"Liberation Sans",sans-serif' >0.05</text>
<line x1="151.6" y1="225.9" x2="152.9" y2="225.9" stroke="#1c1cf0" stroke-width="0.8" />
<text x="154.8" y="227.9" font-size="5.6" fill="#1c1cf0" stroke="#1c1cf0" stroke-width="0.4" font-weight="bold" text-anchor="start" font-family='"Liberation Sans",sans-serif' >0.10</text>
<line x1="151.6" y1="204.2" x2="152.9" y2="204.2" stroke="#1c1cf0" stroke-width="0.8" />
<text x="154.8" y="206.2" font-size="5.6" fill="#1c1cf0" stroke="#1c1cf0" stroke-width="0.4" font-weight="bold" text-anchor="start" font-family='"Liberation Sans",sans-serif' >0.15</text>
<line x1="151.6" y1="182.5" x2="152.9" y2="182.5" stroke="#1c1cf0" stroke-width="0.8" />
<text x="154.8" y="184.5" font-size="5.6" fill="#1c1cf0" stroke="#1c1cf0" stroke-width="0.4" font-weight="bold" text-anchor="start" font-family='"Liberation Sans",sans-serif' >0.20</text>
<line x1="152.1" y1="258.45" x2="152.9" y2="258.45" stroke="#1c1cf0" stroke-width="0.7" />
<line x1="152.1" y1="236.75" x2="152.9" y2="236.75" stroke="#1c1cf0" stroke-width="0.7" />
<line x1="152.1" y1="215.05" x2="152.9" y2="215.05" stroke="#1c1cf0" stroke-width="0.7" />
<line x1="152.1" y1="193.35" x2="152.9" y2="193.35" stroke="#1c1cf0" stroke-width="0.7" />
<line x1="53.3" y1="269.3" x2="53.3" y2="268" stroke="#1a1a1a" stroke-width="0.8" />
<line x1="53.3" y1="182.5" x2="53.3" y2="183.8" stroke="#1a1a1a" stroke-width="0.8" />
<text x="53.3" y="275.3" font-size="5.6" fill="#222" stroke="#222" stroke-width="0.4" font-weight="bold" text-anchor="middle" font-family='"Liberation Sans",sans-serif' >PEMA</text>
<text x="53.3" y="179" font-size="5.6" fill="#222" stroke="#222" stroke-width="0.4" font-weight="bold" text-anchor="middle" font-family='"Liberation Sans",sans-serif' >0</text>
<line x1="75.3" y1="269.3" x2="75.3" y2="268" stroke="#1a1a1a" stroke-width="0.8" />
<line x1="75.3" y1="182.5" x2="75.3" y2="183.8" stroke="#1a1a1a" stroke-width="0.8" />
<text x="75.3" y="275.3" font-size="5.6" fill="#222" stroke="#222" stroke-width="0.4" font-weight="bold" text-anchor="middle" font-family='"Liberation Sans",sans-serif' >PF</text>
<text x="75.3" y="179" font-size="5.6" fill="#222" stroke="#222" stroke-width="0.4" font-weight="bold" text-anchor="middle" font-family='"Liberation Sans",sans-serif' >1</text>
<line x1="97.3" y1="269.3" x2="97.3" y2="268" stroke="#1a1a1a" stroke-width="0.8" />
<line x1="97.3" y1="182.5" x2="97.3" y2="183.8" stroke="#1a1a1a" stroke-width="0.8" />
<text x="97.3" y="275.3" font-size="5.6" fill="#222" stroke="#222" stroke-width="0.4" font-weight="bold" text-anchor="middle" font-family='"Liberation Sans",sans-serif' >PTF</text>
<text x="97.3" y="179" font-size="5.6" fill="#222" stroke="#222" stroke-width="0.4" font-weight="bold" text-anchor="middle" font-family='"Liberation Sans",sans-serif' >3</text>
<line x1="119.3" y1="269.3" x2="119.3" y2="268" stroke="#1a1a1a" stroke-width="0.8" />
<line x1="119.3" y1="182.5" x2="119.3" y2="183.8" stroke="#1a1a1a" stroke-width="0.8" />
<text x="119.3" y="275.3" font-size="5.6" fill="#222" stroke="#222" stroke-width="0.4" font-weight="bold" text-anchor="middle" font-family='"Liberation Sans",sans-serif' >PPF</text>
<text x="119.3" y="179" font-size="5.6" fill="#222" stroke="#222" stroke-width="0.4" font-weight="bold" text-anchor="middle" font-family='"Liberation Sans",sans-serif' >5</text>
<line x1="141.3" y1="269.3" x2="141.3" y2="268" stroke="#1a1a1a" stroke-width="0.8" />
<line x1="141.3" y1="182.5" x2="141.3" y2="183.8" stroke="#1a1a1a" stroke-width="0.8" />
<text x="141.3" y="275.3" font-size="5.6" fill="#222" stroke="#222" stroke-width="0.4" font-weight="bold" text-anchor="middle" font-family='"Liberation Sans",sans-serif' >PHF</text>
<text x="141.3" y="179" font-size="5.6" fill="#222" stroke="#222" stroke-width="0.4" font-weight="bold" text-anchor="middle" font-family='"Liberation Sans",sans-serif' >7</text>
<text x="97.7" y="171.6" font-size="7.2" fill="#111" stroke="#111" stroke-width="0.22" font-weight="bold" text-anchor="middle" font-family='"Liberation Sans",sans-serif' >Number of fluorine units</text>
<text transform="translate(25.6,225.9) rotate(-90)" font-size="7" fill="#111" stroke="#111" stroke-width="0.22" font-weight="bold" text-anchor="middle" font-family='"Liberation Sans",sans-serif' >Polarity difference (V)</text>
<text transform="translate(173.6,224.6) rotate(-90)" font-size="7" fill="#1c1cf0" stroke="#1c1cf0" stroke-width="0.22" font-weight="bold" text-anchor="middle" font-family='"Liberation Sans",sans-serif' >Current (μA)</text>
<circle cx="53.3" cy="259.2" r="2.2" fill="url(#sk2)"/>
<circle cx="75.3" cy="251.2" r="2.2" fill="url(#sk2)"/>
<circle cx="97.3" cy="195" r="2.2" fill="url(#sk2)"/>
<circle cx="119.3" cy="208.7" r="2.2" fill="url(#sk2)"/>
<circle cx="141.3" cy="211.4" r="2.2" fill="url(#sk2)"/>
<rect x="51.65" y="254.25" width="3.3" height="3.3" fill="#1030ff"/>
<rect x="73.65" y="236.35" width="3.3" height="3.3" fill="#1030ff"/>
<rect x="95.65" y="200.05" width="3.3" height="3.3" fill="#1030ff"/>
<rect x="117.65" y="203.35" width="3.3" height="3.3" fill="#1030ff"/>
<rect x="139.65" y="204.45" width="3.3" height="3.3" fill="#1030ff"/>
<line x1="76.5" y1="195.9" x2="90.9" y2="195.9" stroke="#444" stroke-width="0.9" />
<polygon points="74.3,195.9 77.8,194.2 77.8,197.6" fill="#444" />
<line x1="123.6" y1="219.8" x2="140.5" y2="219.8" stroke="#3a3ae6" stroke-width="0.9" />
<polygon points="142.8,219.8 139.3,218.1 139.3,221.5" fill="#3a3ae6" />
<line x1="216.2" y1="164.5" x2="301" y2="164.5" stroke="#1a1a1a" stroke-width="1.2" />
<line x1="216.2" y1="164.5" x2="216.2" y2="257.4" stroke="#1a1a1a" stroke-width="1.2" />
<line x1="216.2" y1="257.4" x2="301" y2="257.4" stroke="#1a1a1a" stroke-width="1.2" />
<line x1="301" y1="163.9" x2="301" y2="258" stroke="#1c1cf0" stroke-width="1.2" />
<line x1="216.2" y1="257.4" x2="217.5" y2="257.4" stroke="#1a1a1a" stroke-width="0.8" />
<text x="213.3" y="259.5" font-size="6" fill="#222" stroke="#222" stroke-width="0.4" font-weight="bold" text-anchor="end" font-family='"Liberation Sans",sans-serif' >1.45</text>
<line x1="216.2" y1="226.43" x2="217.5" y2="226.43" stroke="#1a1a1a" stroke-width="0.8" />
<text x="213.3" y="228.53" font-size="6" fill="#222" stroke="#222" stroke-width="0.4" font-weight="bold" text-anchor="end" font-family='"Liberation Sans",sans-serif' >1.50</text>
<line x1="216.2" y1="195.47" x2="217.5" y2="195.47" stroke="#1a1a1a" stroke-width="0.8" />
<text x="213.3" y="197.57" font-size="6" fill="#222" stroke="#222" stroke-width="0.4" font-weight="bold" text-anchor="end" font-family='"Liberation Sans",sans-serif' >1.55</text>
<line x1="216.2" y1="164.5" x2="217.5" y2="164.5" stroke="#1a1a1a" stroke-width="0.8" />
<text x="213.3" y="166.6" font-size="6" fill="#222" stroke="#222" stroke-width="0.4" font-weight="bold" text-anchor="end" font-family='"Liberation Sans",sans-serif' >1.60</text>
<line x1="216.2" y1="241.92" x2="217" y2="241.92" stroke="#1a1a1a" stroke-width="0.7" />
<line x1="216.2" y1="210.95" x2="217" y2="210.95" stroke="#1a1a1a" stroke-width="0.7" />
<line x1="216.2" y1="179.98" x2="217" y2="179.98" stroke="#1a1a1a" stroke-width="0.7" />
<line x1="299.7" y1="242.2" x2="301" y2="242.2" stroke="#1c1cf0" stroke-width="0.8" />
<text x="303.4" y="244.3" font-size="6" fill="#1c1cf0" stroke="#1c1cf0" stroke-width="0.4" font-weight="bold" text-anchor="start" font-family='"Liberation Sans",sans-serif' >0.05</text>
<line x1="299.7" y1="210.9" x2="301" y2="210.9" stroke="#1c1cf0" stroke-width="0.8" />
<text x="303.4" y="213" font-size="6" fill="#1c1cf0" stroke="#1c1cf0" stroke-width="0.4" font-weight="bold" text-anchor="start" font-family='"Liberation Sans",sans-serif' >0.10</text>
<line x1="299.7" y1="179.6" x2="301" y2="179.6" stroke="#1c1cf0" stroke-width="0.8" />
<text x="303.4" y="181.7" font-size="6" fill="#1c1cf0" stroke="#1c1cf0" stroke-width="0.4" font-weight="bold" text-anchor="start" font-family='"Liberation Sans",sans-serif' >0.15</text>
<line x1="300.2" y1="226.55" x2="301" y2="226.55" stroke="#1c1cf0" stroke-width="0.7" />
<line x1="300.2" y1="195.25" x2="301" y2="195.25" stroke="#1c1cf0" stroke-width="0.7" />
<line x1="227.6" y1="257.4" x2="227.6" y2="256.1" stroke="#1a1a1a" stroke-width="0.8" />
<text x="227.6" y="264.8" font-size="6" fill="#222" stroke="#222" stroke-width="0.4" font-weight="bold" text-anchor="middle" font-family='"Liberation Sans",sans-serif' >30</text>
<line x1="244.85" y1="257.4" x2="244.85" y2="256.1" stroke="#1a1a1a" stroke-width="0.8" />
<text x="244.85" y="264.8" font-size="6" fill="#222" stroke="#222" stroke-width="0.4" font-weight="bold" text-anchor="middle" font-family='"Liberation Sans",sans-serif' >60</text>
<line x1="262.1" y1="257.4" x2="262.1" y2="256.1" stroke="#1a1a1a" stroke-width="0.8" />
<text x="262.1" y="264.8" font-size="6" fill="#222" stroke="#222" stroke-width="0.4" font-weight="bold" text-anchor="middle" font-family='"Liberation Sans",sans-serif' >90</text>
<line x1="279.35" y1="257.4" x2="279.35" y2="256.1" stroke="#1a1a1a" stroke-width="0.8" />
<text x="279.35" y="264.8" font-size="6" fill="#222" stroke="#222" stroke-width="0.4" font-weight="bold" text-anchor="middle" font-family='"Liberation Sans",sans-serif' >120</text>
<line x1="296.6" y1="257.4" x2="296.6" y2="256.1" stroke="#1a1a1a" stroke-width="0.8" />
<text x="296.6" y="264.8" font-size="6" fill="#222" stroke="#222" stroke-width="0.4" font-weight="bold" text-anchor="middle" font-family='"Liberation Sans",sans-serif' >150</text>
<line x1="218.97" y1="257.4" x2="218.97" y2="256.6" stroke="#1a1a1a" stroke-width="0.7" />
<line x1="236.22" y1="257.4" x2="236.22" y2="256.6" stroke="#1a1a1a" stroke-width="0.7" />
<line x1="253.47" y1="257.4" x2="253.47" y2="256.6" stroke="#1a1a1a" stroke-width="0.7" />
<line x1="270.73" y1="257.4" x2="270.73" y2="256.6" stroke="#1a1a1a" stroke-width="0.7" />
<line x1="287.98" y1="257.4" x2="287.98" y2="256.6" stroke="#1a1a1a" stroke-width="0.7" />
<text x="212.6" y="275.6" font-size="6.9" fill="#111" stroke="#111" stroke-width="0.22" font-weight="bold" text-anchor="start" font-family='"Liberation Sans",sans-serif' textLength="81.4" lengthAdjust="spacingAndGlyphs">Annealing temperature (</text>
<text x="294.3" y="272" font-size="4.2" fill="#111" stroke="#111" stroke-width="0.4" font-weight="bold" text-anchor="start" font-family='"Liberation Sans",sans-serif' >O</text>
<text x="296.6" y="275.6" font-size="6.9" fill="#111" stroke="#111" stroke-width="0.22" font-weight="bold" text-anchor="start" font-family='"Liberation Sans",sans-serif' textLength="9.3" lengthAdjust="spacingAndGlyphs">C)</text>
<text transform="translate(199.2,210) rotate(-90)" font-size="6.4" fill="#111" stroke="#111" stroke-width="0.22" font-weight="bold" text-anchor="middle" font-family='"Liberation Sans",sans-serif' >Polarity difference (V)</text>
<text transform="translate(324.6,216.5) rotate(-90)" font-size="6.8" fill="#1c1cf0" stroke="#1c1cf0" stroke-width="0.22" font-weight="bold" text-anchor="middle" font-family='"Liberation Sans",sans-serif' >Current (μA)</text>
<circle cx="224.72" cy="179.1" r="2.2" fill="url(#sk2)"/>
<circle cx="239.1" cy="210.4" r="2.2" fill="url(#sk2)"/>
<circle cx="267.85" cy="222.1" r="2.2" fill="url(#sk2)"/>
<circle cx="296.6" cy="238.6" r="2.2" fill="url(#sk2)"/>
<rect x="223.07" y="242.45" width="3.3" height="3.3" fill="#1030ff"/>
<rect x="237.45" y="241.75" width="3.3" height="3.3" fill="#1030ff"/>
<rect x="266.2" y="226.35" width="3.3" height="3.3" fill="#1030ff"/>
<rect x="294.95" y="177.95" width="3.3" height="3.3" fill="#1030ff"/>
<line x1="222.5" y1="210.4" x2="236" y2="210.4" stroke="#222" stroke-width="0.9" />
<polygon points="220.3,210.4 223.8,208.8 223.8,212" fill="#222" />
<line x1="269.7" y1="228" x2="282" y2="228" stroke="#3a3ae6" stroke-width="0.9" />
<polygon points="284.2,228 280.7,226.4 280.7,229.6" fill="#3a3ae6" />
<text x="371.1" y="171.3" font-size="8.2" fill="#ff1010" stroke="#ff1010" font-weight="bold" text-anchor="start" font-family='"Liberation Sans",sans-serif' textLength="160.7" lengthAdjust="spacingAndGlyphs" stroke-width="0.3">Molecularly Engineered Surface by SAMs</text>
<rect x="419.7" y="174.5" width="115.6" height="27.3" fill="none" stroke="#444" stroke-width="0.8" stroke-dasharray="1.6 1.3"/>
<rect x="419.7" y="202.2" width="115.6" height="60.2" fill="none" stroke="#444" stroke-width="0.8" stroke-dasharray="1.6 1.3"/>
<polygon points="334.1,254.3 388.1,254.3 388.1,263.2 334.1,263.2" fill="#a578ec" />
<polygon points="388.1,254.3 410.2,232.2 410.2,241.1 388.1,263.2" fill="#7d54c9" />
<polygon points="334.1,245.2 388.1,245.2 388.1,254.3 334.1,254.3" fill="url(#pdf)" />
<polygon points="388.1,245.2 410.2,223.1 410.2,232.2 388.1,254.3" fill="#c3932a" />
<polygon points="334.1,245.2 388.1,245.2 410.2,223.1 356.2,223.1" fill="#f3d87a" />
<line x1="334.1" y1="245.2" x2="388.1" y2="245.2" stroke="#b8902a" stroke-width="0.5"/>
<text x="354.6" y="251.7" font-size="4.6" fill="#222" stroke="#222" stroke-width="0.4" font-weight="bold" text-anchor="start" font-family='"Liberation Sans",sans-serif' textLength="12.2" lengthAdjust="spacingAndGlyphs">PDMS</text>
<text x="343" y="261.1" font-size="4.8" fill="#222" stroke="#222" stroke-width="0.4" font-weight="bold" text-anchor="start" font-family='"Liberation Sans",sans-serif' textLength="35.3" lengthAdjust="spacingAndGlyphs">ITO-coated glass</text>
<line x1="359" y1="223.55" x2="359" y2="212.95" stroke="#b2c4d2" stroke-width="1.15" />
<circle cx="359" cy="223.55" r="1.1" fill="#2a90e8"/>
<circle cx="359" cy="212.95" r="1.1" fill="#f4b41e"/>
<line x1="363.9" y1="223.55" x2="363.9" y2="212.95" stroke="#b2c4d2" stroke-width="1.15" />
<circle cx="363.9" cy="223.55" r="1.1" fill="#2a90e8"/>
<circle cx="363.9" cy="212.95" r="1.1" fill="#f4b41e"/>
<line x1="368.8" y1="223.55" x2="368.8" y2="212.95" stroke="#b2c4d2" stroke-width="1.15" />
<circle cx="368.8" cy="223.55" r="1.1" fill="#2a90e8"/>
<circle cx="368.8" cy="212.95" r="1.1" fill="#f4b41e"/>
<line x1="373.7" y1="223.55" x2="373.7" y2="212.95" stroke="#b2c4d2" stroke-width="1.15" />
<circle cx="373.7" cy="223.55" r="1.1" fill="#2a90e8"/>
<circle cx="373.7" cy="212.95" r="1.1" fill="#f4b41e"/>
<line x1="378.6" y1="223.55" x2="378.6" y2="212.95" stroke="#b2c4d2" stroke-width="1.15" />
<circle cx="378.6" cy="223.55" r="1.1" fill="#2a90e8"/>
<circle cx="378.6" cy="212.95" r="1.1" fill="#f4b41e"/>
<line x1="383.5" y1="223.55" x2="383.5" y2="212.95" stroke="#b2c4d2" stroke-width="1.15" />
<circle cx="383.5" cy="223.55" r="1.1" fill="#2a90e8"/>
<circle cx="383.5" cy="212.95" r="1.1" fill="#f4b41e"/>
<line x1="388.4" y1="223.55" x2="388.4" y2="212.95" stroke="#b2c4d2" stroke-width="1.15" />
<circle cx="388.4" cy="223.55" r="1.1" fill="#2a90e8"/>
<circle cx="388.4" cy="212.95" r="1.1" fill="#f4b41e"/>
<line x1="393.3" y1="223.55" x2="393.3" y2="212.95" stroke="#b2c4d2" stroke-width="1.15" />
<circle cx="393.3" cy="223.55" r="1.1" fill="#2a90e8"/>
<circle cx="393.3" cy="212.95" r="1.1" fill="#f4b41e"/>
<line x1="398.2" y1="223.55" x2="398.2" y2="212.95" stroke="#b2c4d2" stroke-width="1.15" />
<circle cx="398.2" cy="223.55" r="1.1" fill="#2a90e8"/>
<circle cx="398.2" cy="212.95" r="1.1" fill="#f4b41e"/>
<line x1="403.1" y1="223.55" x2="403.1" y2="212.95" stroke="#b2c4d2" stroke-width="1.15" />
<circle cx="403.1" cy="223.55" r="1.1" fill="#2a90e8"/>
<circle cx="403.1" cy="212.95" r="1.1" fill="#f4b41e"/>
<line x1="355.3" y1="227.2" x2="355.3" y2="216.6" stroke="#b2c4d2" stroke-width="1.15" />
<circle cx="355.3" cy="227.2" r="1.1" fill="#2a90e8"/>
<circle cx="355.3" cy="216.6" r="1.1" fill="#f4b41e"/>
<line x1="360.2" y1="227.2" x2="360.2" y2="216.6" stroke="#b2c4d2" stroke-width="1.15" />
<circle cx="360.2" cy="227.2" r="1.1" fill="#2a90e8"/>
<circle cx="360.2" cy="216.6" r="1.1" fill="#f4b41e"/>
<line x1="365.1" y1="227.2" x2="365.1" y2="216.6" stroke="#b2c4d2" stroke-width="1.15" />
<circle cx="365.1" cy="227.2" r="1.1" fill="#2a90e8"/>
<circle cx="365.1" cy="216.6" r="1.1" fill="#f4b41e"/>
<line x1="370" y1="227.2" x2="370" y2="216.6" stroke="#b2c4d2" stroke-width="1.15" />
<circle cx="370" cy="227.2" r="1.1" fill="#2a90e8"/>
<circle cx="370" cy="216.6" r="1.1" fill="#f4b41e"/>
<line x1="374.9" y1="227.2" x2="374.9" y2="216.6" stroke="#b2c4d2" stroke-width="1.15" />
<circle cx="374.9" cy="227.2" r="1.1" fill="#2a90e8"/>
<circle cx="374.9" cy="216.6" r="1.1" fill="#f4b41e"/>
<line x1="379.8" y1="227.2" x2="379.8" y2="216.6" stroke="#b2c4d2" stroke-width="1.15" />
<circle cx="379.8" cy="227.2" r="1.1" fill="#2a90e8"/>
<circle cx="379.8" cy="216.6" r="1.1" fill="#f4b41e"/>
<line x1="384.7" y1="227.2" x2="384.7" y2="216.6" stroke="#b2c4d2" stroke-width="1.15" />
<circle cx="384.7" cy="227.2" r="1.1" fill="#2a90e8"/>
<circle cx="384.7" cy="216.6" r="1.1" fill="#f4b41e"/>
<line x1="389.6" y1="227.2" x2="389.6" y2="216.6" stroke="#b2c4d2" stroke-width="1.15" />
<circle cx="389.6" cy="227.2" r="1.1" fill="#2a90e8"/>
<circle cx="389.6" cy="216.6" r="1.1" fill="#f4b41e"/>
<line x1="394.5" y1="227.2" x2="394.5" y2="216.6" stroke="#b2c4d2" stroke-width="1.15" />
<circle cx="394.5" cy="227.2" r="1.1" fill="#2a90e8"/>
<circle cx="394.5" cy="216.6" r="1.1" fill="#f4b41e"/>
<line x1="399.4" y1="227.2" x2="399.4" y2="216.6" stroke="#b2c4d2" stroke-width="1.15" />
<circle cx="399.4" cy="227.2" r="1.1" fill="#2a90e8"/>
<circle cx="399.4" cy="216.6" r="1.1" fill="#f4b41e"/>
<line x1="351.6" y1="230.85" x2="351.6" y2="220.25" stroke="#b2c4d2" stroke-width="1.15" />
<circle cx="351.6" cy="230.85" r="1.1" fill="#2a90e8"/>
<circle cx="351.6" cy="220.25" r="1.1" fill="#f4b41e"/>
<line x1="356.5" y1="230.85" x2="356.5" y2="220.25" stroke="#b2c4d2" stroke-width="1.15" />
<circle cx="356.5" cy="230.85" r="1.1" fill="#2a90e8"/>
<circle cx="356.5" cy="220.25" r="1.1" fill="#f4b41e"/>
<line x1="361.4" y1="230.85" x2="361.4" y2="220.25" stroke="#b2c4d2" stroke-width="1.15" />
<circle cx="361.4" cy="230.85" r="1.1" fill="#2a90e8"/>
<circle cx="361.4" cy="220.25" r="1.1" fill="#f4b41e"/>
<line x1="366.3" y1="230.85" x2="366.3" y2="220.25" stroke="#b2c4d2" stroke-width="1.15" />
<circle cx="366.3" cy="230.85" r="1.1" fill="#2a90e8"/>
<circle cx="366.3" cy="220.25" r="1.1" fill="#f4b41e"/>
<line x1="371.2" y1="230.85" x2="371.2" y2="220.25" stroke="#b2c4d2" stroke-width="1.15" />
<circle cx="371.2" cy="230.85" r="1.1" fill="#2a90e8"/>
<circle cx="371.2" cy="220.25" r="1.1" fill="#f4b41e"/>
<line x1="376.1" y1="230.85" x2="376.1" y2="220.25" stroke="#b2c4d2" stroke-width="1.15" />
<circle cx="376.1" cy="230.85" r="1.1" fill="#2a90e8"/>
<circle cx="376.1" cy="220.25" r="1.1" fill="#f4b41e"/>
<line x1="381" y1="230.85" x2="381" y2="220.25" stroke="#b2c4d2" stroke-width="1.15" />
<circle cx="381" cy="230.85" r="1.1" fill="#2a90e8"/>
<circle cx="381" cy="220.25" r="1.1" fill="#f4b41e"/>
<line x1="385.9" y1="230.85" x2="385.9" y2="220.25" stroke="#b2c4d2" stroke-width="1.15" />
<circle cx="385.9" cy="230.85" r="1.1" fill="#2a90e8"/>
<circle cx="385.9" cy="220.25" r="1.1" fill="#f4b41e"/>
<line x1="390.8" y1="230.85" x2="390.8" y2="220.25" stroke="#b2c4d2" stroke-width="1.15" />
<circle cx="390.8" cy="230.85" r="1.1" fill="#2a90e8"/>
<circle cx="390.8" cy="220.25" r="1.1" fill="#f4b41e"/>
<line x1="395.7" y1="230.85" x2="395.7" y2="220.25" stroke="#b2c4d2" stroke-width="1.15" />
<circle cx="395.7" cy="230.85" r="1.1" fill="#2a90e8"/>
<circle cx="395.7" cy="220.25" r="1.1" fill="#f4b41e"/>
<line x1="347.9" y1="234.5" x2="347.9" y2="223.9" stroke="#b2c4d2" stroke-width="1.15" />
<circle cx="347.9" cy="234.5" r="1.1" fill="#2a90e8"/>
<circle cx="347.9" cy="223.9" r="1.1" fill="#f4b41e"/>
<line x1="352.8" y1="234.5" x2="352.8" y2="223.9" stroke="#b2c4d2" stroke-width="1.15" />
<circle cx="352.8" cy="234.5" r="1.1" fill="#2a90e8"/>
<circle cx="352.8" cy="223.9" r="1.1" fill="#f4b41e"/>
<line x1="357.7" y1="234.5" x2="357.7" y2="223.9" stroke="#b2c4d2" stroke-width="1.15" />
<circle cx="357.7" cy="234.5" r="1.1" fill="#2a90e8"/>
<circle cx="357.7" cy="223.9" r="1.1" fill="#f4b41e"/>
<line x1="362.6" y1="234.5" x2="362.6" y2="223.9" stroke="#b2c4d2" stroke-width="1.15" />
<circle cx="362.6" cy="234.5" r="1.1" fill="#2a90e8"/>
<circle cx="362.6" cy="223.9" r="1.1" fill="#f4b41e"/>
<line x1="367.5" y1="234.5" x2="367.5" y2="223.9" stroke="#b2c4d2" stroke-width="1.15" />
<circle cx="367.5" cy="234.5" r="1.1" fill="#2a90e8"/>
<circle cx="367.5" cy="223.9" r="1.1" fill="#f4b41e"/>
<line x1="372.4" y1="234.5" x2="372.4" y2="223.9" stroke="#b2c4d2" stroke-width="1.15" />
<circle cx="372.4" cy="234.5" r="1.1" fill="#2a90e8"/>
<circle cx="372.4" cy="223.9" r="1.1" fill="#f4b41e"/>
<line x1="377.3" y1="234.5" x2="377.3" y2="223.9" stroke="#b2c4d2" stroke-width="1.15" />
<circle cx="377.3" cy="234.5" r="1.1" fill="#2a90e8"/>
<circle cx="377.3" cy="223.9" r="1.1" fill="#f4b41e"/>
<line x1="382.2" y1="234.5" x2="382.2" y2="223.9" stroke="#b2c4d2" stroke-width="1.15" />
<circle cx="382.2" cy="234.5" r="1.1" fill="#2a90e8"/>
<circle cx="382.2" cy="223.9" r="1.1" fill="#f4b41e"/>
<line x1="387.1" y1="234.5" x2="387.1" y2="223.9" stroke="#b2c4d2" stroke-width="1.15" />
<circle cx="387.1" cy="234.5" r="1.1" fill="#2a90e8"/>
<circle cx="387.1" cy="223.9" r="1.1" fill="#f4b41e"/>
<line x1="392" y1="234.5" x2="392" y2="223.9" stroke="#b2c4d2" stroke-width="1.15" />
<circle cx="392" cy="234.5" r="1.1" fill="#2a90e8"/>
<circle cx="392" cy="223.9" r="1.1" fill="#f4b41e"/>
<line x1="344.2" y1="238.15" x2="344.2" y2="227.55" stroke="#b2c4d2" stroke-width="1.15" />
<circle cx="344.2" cy="238.15" r="1.1" fill="#2a90e8"/>
<circle cx="344.2" cy="227.55" r="1.1" fill="#f4b41e"/>
<line x1="349.1" y1="238.15" x2="349.1" y2="227.55" stroke="#b2c4d2" stroke-width="1.15" />
<circle cx="349.1" cy="238.15" r="1.1" fill="#2a90e8"/>
<circle cx="349.1" cy="227.55" r="1.1" fill="#f4b41e"/>
<line x1="354" y1="238.15" x2="354" y2="227.55" stroke="#b2c4d2" stroke-width="1.15" />
<circle cx="354" cy="238.15" r="1.1" fill="#2a90e8"/>
<circle cx="354" cy="227.55" r="1.1" fill="#f4b41e"/>
<line x1="358.9" y1="238.15" x2="358.9" y2="227.55" stroke="#b2c4d2" stroke-width="1.15" />
<circle cx="358.9" cy="238.15" r="1.1" fill="#2a90e8"/>
<circle cx="358.9" cy="227.55" r="1.1" fill="#f4b41e"/>
<line x1="363.8" y1="238.15" x2="363.8" y2="227.55" stroke="#b2c4d2" stroke-width="1.15" />
<circle cx="363.8" cy="238.15" r="1.1" fill="#2a90e8"/>
<circle cx="363.8" cy="227.55" r="1.1" fill="#f4b41e"/>
<line x1="368.7" y1="238.15" x2="368.7" y2="227.55" stroke="#b2c4d2" stroke-width="1.15" />
<circle cx="368.7" cy="238.15" r="1.1" fill="#2a90e8"/>
<circle cx="368.7" cy="227.55" r="1.1" fill="#f4b41e"/>
<line x1="373.6" y1="238.15" x2="373.6" y2="227.55" stroke="#b2c4d2" stroke-width="1.15" />
<circle cx="373.6" cy="238.15" r="1.1" fill="#2a90e8"/>
<circle cx="373.6" cy="227.55" r="1.1" fill="#f4b41e"/>
<line x1="378.5" y1="238.15" x2="378.5" y2="227.55" stroke="#b2c4d2" stroke-width="1.15" />
<circle cx="378.5" cy="238.15" r="1.1" fill="#2a90e8"/>
<circle cx="378.5" cy="227.55" r="1.1" fill="#f4b41e"/>
<line x1="383.4" y1="238.15" x2="383.4" y2="227.55" stroke="#b2c4d2" stroke-width="1.15" />
<circle cx="383.4" cy="238.15" r="1.1" fill="#2a90e8"/>
<circle cx="383.4" cy="227.55" r="1.1" fill="#f4b41e"/>
<line x1="388.3" y1="238.15" x2="388.3" y2="227.55" stroke="#b2c4d2" stroke-width="1.15" />
<circle cx="388.3" cy="238.15" r="1.1" fill="#2a90e8"/>
<circle cx="388.3" cy="227.55" r="1.1" fill="#f4b41e"/>
<line x1="340.5" y1="241.8" x2="340.5" y2="231.2" stroke="#b2c4d2" stroke-width="1.15" />
<circle cx="340.5" cy="241.8" r="1.1" fill="#2a90e8"/>
<circle cx="340.5" cy="231.2" r="1.1" fill="#f4b41e"/>
<line x1="345.4" y1="241.8" x2="345.4" y2="231.2" stroke="#b2c4d2" stroke-width="1.15" />
<circle cx="345.4" cy="241.8" r="1.1" fill="#2a90e8"/>
<circle cx="345.4" cy="231.2" r="1.1" fill="#f4b41e"/>
<line x1="350.3" y1="241.8" x2="350.3" y2="231.2" stroke="#b2c4d2" stroke-width="1.15" />
<circle cx="350.3" cy="241.8" r="1.1" fill="#2a90e8"/>
<circle cx="350.3" cy="231.2" r="1.1" fill="#f4b41e"/>
<line x1="355.2" y1="241.8" x2="355.2" y2="231.2" stroke="#b2c4d2" stroke-width="1.15" />
<circle cx="355.2" cy="241.8" r="1.1" fill="#2a90e8"/>
<circle cx="355.2" cy="231.2" r="1.1" fill="#f4b41e"/>
<line x1="360.1" y1="241.8" x2="360.1" y2="231.2" stroke="#b2c4d2" stroke-width="1.15" />
<circle cx="360.1" cy="241.8" r="1.1" fill="#2a90e8"/>
<circle cx="360.1" cy="231.2" r="1.1" fill="#f4b41e"/>
<line x1="365" y1="241.8" x2="365" y2="231.2" stroke="#b2c4d2" stroke-width="1.15" />
<circle cx="365" cy="241.8" r="1.1" fill="#2a90e8"/>
<circle cx="365" cy="231.2" r="1.1" fill="#f4b41e"/>
<line x1="369.9" y1="241.8" x2="369.9" y2="231.2" stroke="#b2c4d2" stroke-width="1.15" />
<circle cx="369.9" cy="241.8" r="1.1" fill="#2a90e8"/>
<circle cx="369.9" cy="231.2" r="1.1" fill="#f4b41e"/>
<line x1="374.8" y1="241.8" x2="374.8" y2="231.2" stroke="#b2c4d2" stroke-width="1.15" />
<circle cx="374.8" cy="241.8" r="1.1" fill="#2a90e8"/>
<circle cx="374.8" cy="231.2" r="1.1" fill="#f4b41e"/>
<line x1="379.7" y1="241.8" x2="379.7" y2="231.2" stroke="#b2c4d2" stroke-width="1.15" />
<circle cx="379.7" cy="241.8" r="1.1" fill="#2a90e8"/>
<circle cx="379.7" cy="231.2" r="1.1" fill="#f4b41e"/>
<line x1="384.6" y1="241.8" x2="384.6" y2="231.2" stroke="#b2c4d2" stroke-width="1.15" />
<circle cx="384.6" cy="241.8" r="1.1" fill="#2a90e8"/>
<circle cx="384.6" cy="231.2" r="1.1" fill="#f4b41e"/>
<polygon points="385.1,228.4 388.4,227.6 386,243.2 382.6,243.4" fill="none" stroke="#222" stroke-width="0.75"/>
<line x1="408" y1="188.2" x2="408" y2="194.8" stroke="#b2c4d2" stroke-width="1.15" />
<circle cx="408" cy="195" r="1.1" fill="#f02020"/>
<line x1="404" y1="192.2" x2="404" y2="198.8" stroke="#b2c4d2" stroke-width="1.15" />
<circle cx="404" cy="199" r="1.1" fill="#f02020"/>
<line x1="400" y1="196.2" x2="400" y2="202.8" stroke="#b2c4d2" stroke-width="1.15" />
<circle cx="400" cy="203" r="1.1" fill="#f02020"/>
<line x1="396" y1="200.2" x2="396" y2="206.8" stroke="#b2c4d2" stroke-width="1.15" />
<circle cx="396" cy="207" r="1.1" fill="#f02020"/>
<line x1="392" y1="204.2" x2="392" y2="210.8" stroke="#b2c4d2" stroke-width="1.15" />
<circle cx="392" cy="211" r="1.1" fill="#f02020"/>
<line x1="336.5" y1="208.2" x2="336.5" y2="214.8" stroke="#b2c4d2" stroke-width="1.15" />
<circle cx="336.5" cy="215" r="1.1" fill="#f02020"/>
<line x1="341.65" y1="208.2" x2="341.65" y2="214.8" stroke="#b2c4d2" stroke-width="1.15" />
<circle cx="341.65" cy="215" r="1.1" fill="#f02020"/>
<line x1="346.8" y1="208.2" x2="346.8" y2="214.8" stroke="#b2c4d2" stroke-width="1.15" />
<circle cx="346.8" cy="215" r="1.1" fill="#f02020"/>
<line x1="351.95" y1="208.2" x2="351.95" y2="214.8" stroke="#b2c4d2" stroke-width="1.15" />
<circle cx="351.95" cy="215" r="1.1" fill="#f02020"/>
<line x1="357.1" y1="208.2" x2="357.1" y2="214.8" stroke="#b2c4d2" stroke-width="1.15" />
<circle cx="357.1" cy="215" r="1.1" fill="#f02020"/>
<line x1="362.25" y1="208.2" x2="362.25" y2="214.8" stroke="#b2c4d2" stroke-width="1.15" />
<circle cx="362.25" cy="215" r="1.1" fill="#f02020"/>
<line x1="367.4" y1="208.2" x2="367.4" y2="214.8" stroke="#b2c4d2" stroke-width="1.15" />
<circle cx="367.4" cy="215" r="1.1" fill="#f02020"/>
<line x1="372.55" y1="208.2" x2="372.55" y2="214.8" stroke="#b2c4d2" stroke-width="1.15" />
<circle cx="372.55" cy="215" r="1.1" fill="#f02020"/>
<line x1="377.7" y1="208.2" x2="377.7" y2="214.8" stroke="#b2c4d2" stroke-width="1.15" />
<circle cx="377.7" cy="215" r="1.1" fill="#f02020"/>
<line x1="382.85" y1="208.2" x2="382.85" y2="214.8" stroke="#b2c4d2" stroke-width="1.15" />
<circle cx="382.85" cy="215" r="1.1" fill="#f02020"/>
<line x1="388" y1="208.2" x2="388" y2="214.8" stroke="#b2c4d2" stroke-width="1.15" />
<circle cx="388" cy="215" r="1.1" fill="#f02020"/>
<polygon points="334.1,199.5 388.1,199.5 388.1,208.1 334.1,208.1" fill="#5c7373" />
<polygon points="388.1,199.5 410.2,176.9 410.2,185.4 388.1,208.1" fill="#3c4d4d" />
<polygon points="334.1,199.5 388.1,199.5 410.2,176.9 357,176.9" fill="#6b8585" />
<polyline points="334.1,199.5 388.1,199.5 410.2,176.9" fill="none" stroke="#8aa0a0" stroke-width="0.5"/>
<text x="359.3" y="206" font-size="4.4" fill="#222" stroke="#222" stroke-width="0.4" font-weight="bold" text-anchor="start" font-family='"Liberation Sans",sans-serif' >Al</text>
<polygon points="406.2,186.2 409.6,183.2 410.4,194.2 407,197.2" fill="none" stroke="#222" stroke-width="0.7"/>
<line x1="409.8" y1="184.5" x2="419.7" y2="174.8" stroke="#222" stroke-width="0.7" />
<line x1="409.8" y1="196.5" x2="419.7" y2="202" stroke="#222" stroke-width="0.7" />
<line x1="388.4" y1="227.6" x2="419.7" y2="202.6" stroke="#222" stroke-width="0.7" />
<line x1="386" y1="243.2" x2="419.7" y2="262.2" stroke="#222" stroke-width="0.7" />
<text x="422.4" y="192.8" font-size="4.7" fill="#2a7a36" stroke="#2a7a36" stroke-width="0.4" font-weight="bold" text-anchor="start" font-family='"Liberation Sans",sans-serif' textLength="16.6" lengthAdjust="spacingAndGlyphs">APTES :</text>
<text x="443.7" y="185.2" font-size="4.4" fill="#222" stroke="#222" stroke-width="0.4" font-weight="bold" text-anchor="start" font-family='"Liberation Sans",sans-serif' >C<tspan font-size="3" dy="0.8">2</tspan><tspan dy="-0.8">H</tspan><tspan font-size="3" dy="0.8">5</tspan><tspan dy="-0.8">—O</tspan></text>
<text x="439.8" y="192.8" font-size="4.4" fill="#222" stroke="#222" stroke-width="0.4" font-weight="bold" text-anchor="start" font-family='"Liberation Sans",sans-serif' >C<tspan font-size="3" dy="0.8">2</tspan><tspan dy="-0.8">H</tspan><tspan font-size="3" dy="0.8">5</tspan><tspan dy="-0.8">—O—Si</tspan></text>
<text x="443.7" y="199.8" font-size="4.4" fill="#222" stroke="#222" stroke-width="0.4" font-weight="bold" text-anchor="start" font-family='"Liberation Sans",sans-serif' >C<tspan font-size="3" dy="0.8">2</tspan><tspan dy="-0.8">H</tspan><tspan font-size="3" dy="0.8">5</tspan><tspan dy="-0.8">—O</tspan></text>
<line x1="461.3" y1="186" x2="463.3" y2="188.6" stroke="#222" stroke-width="0.6" />
<line x1="461.3" y1="196.4" x2="463.3" y2="193.6" stroke="#222" stroke-width="0.6" />
<polyline points="467.5,190.6 471.5,186.2 477,186.2 481,190.6 486,190.6 489.5,188" fill="none" stroke="#222" stroke-width="0.6" />
<text x="490" y="193.3" font-size="4.4" fill="#222" stroke="#222" stroke-width="0.4" font-weight="bold" text-anchor="start" font-family='"Liberation Sans",sans-serif' >NH<tspan font-size="3" dy="0.8">2</tspan></text>
<text x="422" y="213.4" font-size="4.6" fill="#2a4ad8" stroke="#2a4ad8" stroke-width="0.4" font-weight="bold" text-anchor="start" font-family='"Liberation Sans",sans-serif' >F<tspan font-size="2.9" dy="0.9">13</tspan><tspan dy="-0.9"> :</tspan></text>
<text x="435" y="207.5" font-size="4.6" fill="#222" stroke="#222" stroke-width="0.4" font-weight="bold" text-anchor="start" font-family='"Liberation Sans",sans-serif' >Cl</text>
<text x="432.2" y="213.6" font-size="4.6" fill="#222" stroke="#222" stroke-width="0.4" font-weight="bold" text-anchor="start" font-family='"Liberation Sans",sans-serif' >Cl—Si</text>
<text x="435" y="221.3" font-size="4.6" fill="#222" stroke="#222" stroke-width="0.4" font-weight="bold" text-anchor="start" font-family='"Liberation Sans",sans-serif' >Cl</text>
<line x1="437.5" y1="208.2" x2="437.5" y2="209.4" stroke="#222" stroke-width="0.55" />
<line x1="437.5" y1="214.8" x2="437.5" y2="217.4" stroke="#222" stroke-width="0.55" />
<polyline points="445.2,211.3 449.1,208.8 453.2,209.6 457.3,212.1" fill="none" stroke="#222" stroke-width="0.7" />
<line x1="457.3" y1="212.1" x2="498.78" y2="212.1" stroke="#222" stroke-width="0.7" />
<line x1="459.2" y1="207.6" x2="459.2" y2="217" stroke="#222" stroke-width="0.6" />
<text x="459.2" y="207.4" font-size="4" fill="#222" stroke="#222" stroke-width="0.4" font-weight="bold" text-anchor="middle" font-family='"Liberation Sans",sans-serif' >F</text>
<text x="459.2" y="221.4" font-size="4" fill="#222" stroke="#222" stroke-width="0.4" font-weight="bold" text-anchor="middle" font-family='"Liberation Sans",sans-serif' >F</text>
<line x1="466.28" y1="207.6" x2="466.28" y2="217" stroke="#222" stroke-width="0.6" />
<text x="466.28" y="207.4" font-size="4" fill="#222" stroke="#222" stroke-width="0.4" font-weight="bold" text-anchor="middle" font-family='"Liberation Sans",sans-serif' >F</text>
<text x="466.28" y="221.4" font-size="4" fill="#222" stroke="#222" stroke-width="0.4" font-weight="bold" text-anchor="middle" font-family='"Liberation Sans",sans-serif' >F</text>
<line x1="473.36" y1="207.6" x2="473.36" y2="217" stroke="#222" stroke-width="0.6" />
<text x="473.36" y="207.4" font-size="4" fill="#222" stroke="#222" stroke-width="0.4" font-weight="bold" text-anchor="middle" font-family='"Liberation Sans",sans-serif' >F</text>
<text x="473.36" y="221.4" font-size="4" fill="#222" stroke="#222" stroke-width="0.4" font-weight="bold" text-anchor="middle" font-family='"Liberation Sans",sans-serif' >F</text>
<line x1="480.44" y1="207.6" x2="480.44" y2="217" stroke="#222" stroke-width="0.6" />
<text x="480.44" y="207.4" font-size="4" fill="#222" stroke="#222" stroke-width="0.4" font-weight="bold" text-anchor="middle" font-family='"Liberation Sans",sans-serif' >F</text>
<text x="480.44" y="221.4" font-size="4" fill="#222" stroke="#222" stroke-width="0.4" font-weight="bold" text-anchor="middle" font-family='"Liberation Sans",sans-serif' >F</text>
<line x1="487.52" y1="207.6" x2="487.52" y2="217" stroke="#222" stroke-width="0.6" />
<text x="487.52" y="207.4" font-size="4" fill="#222" stroke="#222" stroke-width="0.4" font-weight="bold" text-anchor="middle" font-family='"Liberation Sans",sans-serif' >F</text>
<text x="487.52" y="221.4" font-size="4" fill="#222" stroke="#222" stroke-width="0.4" font-weight="bold" text-anchor="middle" font-family='"Liberation Sans",sans-serif' >F</text>
<line x1="494.6" y1="207.6" x2="494.6" y2="217" stroke="#222" stroke-width="0.6" />
<text x="494.6" y="207.4" font-size="4" fill="#222" stroke="#222" stroke-width="0.4" font-weight="bold" text-anchor="middle" font-family='"Liberation Sans",sans-serif' >F</text>
<text x="494.6" y="221.4" font-size="4" fill="#222" stroke="#222" stroke-width="0.4" font-weight="bold" text-anchor="middle" font-family='"Liberation Sans",sans-serif' >F</text>
<text x="501.08" y="213.5" font-size="4" fill="#222" stroke="#222" stroke-width="0.4" font-weight="bold" text-anchor="middle" font-family='"Liberation Sans",sans-serif' >F</text>
<text x="422" y="233.6" font-size="4.6" fill="#2a4ad8" stroke="#2a4ad8" stroke-width="0.4" font-weight="bold" text-anchor="start" font-family='"Liberation Sans",sans-serif' >F<tspan font-size="2.9" dy="0.9">17</tspan><tspan dy="-0.9"> :</tspan></text>
<text x="435" y="227.7" font-size="4.6" fill="#222" stroke="#222" stroke-width="0.4" font-weight="bold" text-anchor="start" font-family='"Liberation Sans",sans-serif' >Cl</text>
<text x="432.2" y="233.8" font-size="4.6" fill="#222" stroke="#222" stroke-width="0.4" font-weight="bold" text-anchor="start" font-family='"Liberation Sans",sans-serif' >Cl—Si</text>
<text x="435" y="241.5" font-size="4.6" fill="#222" stroke="#222" stroke-width="0.4" font-weight="bold" text-anchor="start" font-family='"Liberation Sans",sans-serif' >Cl</text>
<line x1="437.5" y1="228.4" x2="437.5" y2="229.6" stroke="#222" stroke-width="0.55" />
<line x1="437.5" y1="235" x2="437.5" y2="237.6" stroke="#222" stroke-width="0.55" />
<polyline points="445.2,231.5 449.1,229 453.2,229.8 457.3,232.3" fill="none" stroke="#222" stroke-width="0.7" />
<line x1="457.3" y1="232.3" x2="512.94" y2="232.3" stroke="#222" stroke-width="0.7" />
<line x1="459.2" y1="227.8" x2="459.2" y2="237.2" stroke="#222" stroke-width="0.6" />
<text x="459.2" y="227.6" font-size="4" fill="#222" stroke="#222" stroke-width="0.4" font-weight="bold" text-anchor="middle" font-family='"Liberation Sans",sans-serif' >F</text>
<text x="459.2" y="241.6" font-size="4" fill="#222" stroke="#222" stroke-width="0.4" font-weight="bold" text-anchor="middle" font-family='"Liberation Sans",sans-serif' >F</text>
<line x1="466.28" y1="227.8" x2="466.28" y2="237.2" stroke="#222" stroke-width="0.6" />
<text x="466.28" y="227.6" font-size="4" fill="#222" stroke="#222" stroke-width="0.4" font-weight="bold" text-anchor="middle" font-family='"Liberation Sans",sans-serif' >F</text>
<text x="466.28" y="241.6" font-size="4" fill="#222" stroke="#222" stroke-width="0.4" font-weight="bold" text-anchor="middle" font-family='"Liberation Sans",sans-serif' >F</text>
<line x1="473.36" y1="227.8" x2="473.36" y2="237.2" stroke="#222" stroke-width="0.6" />
<text x="473.36" y="227.6" font-size="4" fill="#222" stroke="#222" stroke-width="0.4" font-weight="bold" text-anchor="middle" font-family='"Liberation Sans",sans-serif' >F</text>
<text x="473.36" y="241.6" font-size="4" fill="#222" stroke="#222" stroke-width="0.4" font-weight="bold" text-anchor="middle" font-family='"Liberation Sans",sans-serif' >F</text>
<line x1="480.44" y1="227.8" x2="480.44" y2="237.2" stroke="#222" stroke-width="0.6" />
<text x="480.44" y="227.6" font-size="4" fill="#222" stroke="#222" stroke-width="0.4" font-weight="bold" text-anchor="middle" font-family='"Liberation Sans",sans-serif' >F</text>
<text x="480.44" y="241.6" font-size="4" fill="#222" stroke="#222" stroke-width="0.4" font-weight="bold" text-anchor="middle" font-family='"Liberation Sans",sans-serif' >F</text>
<line x1="487.52" y1="227.8" x2="487.52" y2="237.2" stroke="#222" stroke-width="0.6" />
<text x="487.52" y="227.6" font-size="4" fill="#222" stroke="#222" stroke-width="0.4" font-weight="bold" text-anchor="middle" font-family='"Liberation Sans",sans-serif' >F</text>
<text x="487.52" y="241.6" font-size="4" fill="#222" stroke="#222" stroke-width="0.4" font-weight="bold" text-anchor="middle" font-family='"Liberation Sans",sans-serif' >F</text>
<line x1="494.6" y1="227.8" x2="494.6" y2="237.2" stroke="#222" stroke-width="0.6" />
<text x="494.6" y="227.6" font-size="4" fill="#222" stroke="#222" stroke-width="0.4" font-weight="bold" text-anchor="middle" font-family='"Liberation Sans",sans-serif' >F</text>
<text x="494.6" y="241.6" font-size="4" fill="#222" stroke="#222" stroke-width="0.4" font-weight="bold" text-anchor="middle" font-family='"Liberation Sans",sans-serif' >F</text>
<line x1="501.68" y1="227.8" x2="501.68" y2="237.2" stroke="#222" stroke-width="0.6" />
<text x="501.68" y="227.6" font-size="4" fill="#222" stroke="#222" stroke-width="0.4" font-weight="bold" text-anchor="middle" font-family='"Liberation Sans",sans-serif' >F</text>
<text x="501.68" y="241.6" font-size="4" fill="#222" stroke="#222" stroke-width="0.4" font-weight="bold" text-anchor="middle" font-family='"Liberation Sans",sans-serif' >F</text>
<line x1="508.76" y1="227.8" x2="508.76" y2="237.2" stroke="#222" stroke-width="0.6" />
<text x="508.76" y="227.6" font-size="4" fill="#222" stroke="#222" stroke-width="0.4" font-weight="bold" text-anchor="middle" font-family='"Liberation Sans",sans-serif' >F</text>
<text x="508.76" y="241.6" font-size="4" fill="#222" stroke="#222" stroke-width="0.4" font-weight="bold" text-anchor="middle" font-family='"Liberation Sans",sans-serif' >F</text>
<text x="515.24" y="233.7" font-size="4" fill="#222" stroke="#222" stroke-width="0.4" font-weight="bold" text-anchor="middle" font-family='"Liberation Sans",sans-serif' >F</text>
<text x="422" y="253.8" font-size="4.6" fill="#2a4ad8" stroke="#2a4ad8" stroke-width="0.4" font-weight="bold" text-anchor="start" font-family='"Liberation Sans",sans-serif' >F<tspan font-size="2.9" dy="0.9">21</tspan><tspan dy="-0.9"> :</tspan></text>
<text x="435" y="247.9" font-size="4.6" fill="#222" stroke="#222" stroke-width="0.4" font-weight="bold" text-anchor="start" font-family='"Liberation Sans",sans-serif' >Cl</text>
<text x="432.2" y="254" font-size="4.6" fill="#222" stroke="#222" stroke-width="0.4" font-weight="bold" text-anchor="start" font-family='"Liberation Sans",sans-serif' >Cl—Si</text>
<text x="435" y="261.7" font-size="4.6" fill="#222" stroke="#222" stroke-width="0.4" font-weight="bold" text-anchor="start" font-family='"Liberation Sans",sans-serif' >Cl</text>
<line x1="437.5" y1="248.6" x2="437.5" y2="249.8" stroke="#222" stroke-width="0.55" />
<line x1="437.5" y1="255.2" x2="437.5" y2="257.8" stroke="#222" stroke-width="0.55" />
<polyline points="445.2,251.7 449.1,249.2 453.2,250 457.3,252.5" fill="none" stroke="#222" stroke-width="0.7" />
<line x1="457.3" y1="252.5" x2="527.1" y2="252.5" stroke="#222" stroke-width="0.7" />
<line x1="459.2" y1="248" x2="459.2" y2="257.4" stroke="#222" stroke-width="0.6" />
<text x="459.2" y="247.8" font-size="4" fill="#222" stroke="#222" stroke-width="0.4" font-weight="bold" text-anchor="middle" font-family='"Liberation Sans",sans-serif' >F</text>
<text x="459.2" y="261.8" font-size="4" fill="#222" stroke="#222" stroke-width="0.4" font-weight="bold" text-anchor="middle" font-family='"Liberation Sans",sans-serif' >F</text>
<line x1="466.28" y1="248" x2="466.28" y2="257.4" stroke="#222" stroke-width="0.6" />
<text x="466.28" y="247.8" font-size="4" fill="#222" stroke="#222" stroke-width="0.4" font-weight="bold" text-anchor="middle" font-family='"Liberation Sans",sans-serif' >F</text>
<text x="466.28" y="261.8" font-size="4" fill="#222" stroke="#222" stroke-width="0.4" font-weight="bold" text-anchor="middle" font-family='"Liberation Sans",sans-serif' >F</text>
<line x1="473.36" y1="248" x2="473.36" y2="257.4" stroke="#222" stroke-width="0.6" />
<text x="473.36" y="247.8" font-size="4" fill="#222" stroke="#222" stroke-width="0.4" font-weight="bold" text-anchor="middle" font-family='"Liberation Sans",sans-serif' >F</text>
<text x="473.36" y="261.8" font-size="4" fill="#222" stroke="#222" stroke-width="0.4" font-weight="bold" text-anchor="middle" font-family='"Liberation Sans",sans-serif' >F</text>
<line x1="480.44" y1="248" x2="480.44" y2="257.4" stroke="#222" stroke-width="0.6" />
<text x="480.44" y="247.8" font-size="4" fill="#222" stroke="#222" stroke-width="0.4" font-weight="bold" text-anchor="middle" font-family='"Liberation Sans",sans-serif' >F</text>
<text x="480.44" y="261.8" font-size="4" fill="#222" stroke="#222" stroke-width="0.4" font-weight="bold" text-anchor="middle" font-family='"Liberation Sans",sans-serif' >F</text>
<line x1="487.52" y1="248" x2="487.52" y2="257.4" stroke="#222" stroke-width="0.6" />
<text x="487.52" y="247.8" font-size="4" fill="#222" stroke="#222" stroke-width="0.4" font-weight="bold" text-anchor="middle" font-family='"Liberation Sans",sans-serif' >F</text>
<text x="487.52" y="261.8" font-size="4" fill="#222" stroke="#222" stroke-width="0.4" font-weight="bold" text-anchor="middle" font-family='"Liberation Sans",sans-serif' >F</text>
<line x1="494.6" y1="248" x2="494.6" y2="257.4" stroke="#222" stroke-width="0.6" />
<text x="494.6" y="247.8" font-size="4" fill="#222" stroke="#222" stroke-width="0.4" font-weight="bold" text-anchor="middle" font-family='"Liberation Sans",sans-serif' >F</text>
<text x="494.6" y="261.8" font-size="4" fill="#222" stroke="#222" stroke-width="0.4" font-weight="bold" text-anchor="middle" font-family='"Liberation Sans",sans-serif' >F</text>
<line x1="501.68" y1="248" x2="501.68" y2="257.4" stroke="#222" stroke-width="0.6" />
<text x="501.68" y="247.8" font-size="4" fill="#222" stroke="#222" stroke-width="0.4" font-weight="bold" text-anchor="middle" font-family='"Liberation Sans",sans-serif' >F</text>
<text x="501.68" y="261.8" font-size="4" fill="#222" stroke="#222" stroke-width="0.4" font-weight="bold" text-anchor="middle" font-family='"Liberation Sans",sans-serif' >F</text>
<line x1="508.76" y1="248" x2="508.76" y2="257.4" stroke="#222" stroke-width="0.6" />
<text x="508.76" y="247.8" font-size="4" fill="#222" stroke="#222" stroke-width="0.4" font-weight="bold" text-anchor="middle" font-family='"Liberation Sans",sans-serif' >F</text>
<text x="508.76" y="261.8" font-size="4" fill="#222" stroke="#222" stroke-width="0.4" font-weight="bold" text-anchor="middle" font-family='"Liberation Sans",sans-serif' >F</text>
<line x1="515.84" y1="248" x2="515.84" y2="257.4" stroke="#222" stroke-width="0.6" />
<text x="515.84" y="247.8" font-size="4" fill="#222" stroke="#222" stroke-width="0.4" font-weight="bold" text-anchor="middle" font-family='"Liberation Sans",sans-serif' >F</text>
<text x="515.84" y="261.8" font-size="4" fill="#222" stroke="#222" stroke-width="0.4" font-weight="bold" text-anchor="middle" font-family='"Liberation Sans",sans-serif' >F</text>
<line x1="522.92" y1="248" x2="522.92" y2="257.4" stroke="#222" stroke-width="0.6" />
<text x="522.92" y="247.8" font-size="4" fill="#222" stroke="#222" stroke-width="0.4" font-weight="bold" text-anchor="middle" font-family='"Liberation Sans",sans-serif' >F</text>
<text x="522.92" y="261.8" font-size="4" fill="#222" stroke="#222" stroke-width="0.4" font-weight="bold" text-anchor="middle" font-family='"Liberation Sans",sans-serif' >F</text>
<text x="529.4" y="253.9" font-size="4" fill="#222" stroke="#222" stroke-width="0.4" font-weight="bold" text-anchor="middle" font-family='"Liberation Sans",sans-serif' >F</text>
<line x1="51.7" y1="327.41" x2="51.7" y2="347.39" stroke="#383838" stroke-width="0.95" />
<line x1="53.64" y1="327.23" x2="53.64" y2="347.42" stroke="#383838" stroke-width="0.95" />
<line x1="55.58" y1="327.3" x2="55.58" y2="347.3" stroke="#383838" stroke-width="0.95" />
<line x1="57.52" y1="327.56" x2="57.52" y2="347.24" stroke="#383838" stroke-width="0.95" />
<line x1="59.45" y1="327.57" x2="59.45" y2="347.27" stroke="#383838" stroke-width="0.95" />
<line x1="61.39" y1="327.55" x2="61.39" y2="347.41" stroke="#383838" stroke-width="0.95" />
<line x1="63.33" y1="327.36" x2="63.33" y2="347.11" stroke="#383838" stroke-width="0.95" />
<line x1="65.27" y1="327.52" x2="65.27" y2="347.36" stroke="#383838" stroke-width="0.95" />
<line x1="67.21" y1="327.25" x2="67.21" y2="347.06" stroke="#383838" stroke-width="0.95" />
<line x1="69.15" y1="327.27" x2="69.15" y2="347.29" stroke="#383838" stroke-width="0.95" />
<line x1="71.08" y1="327.05" x2="71.08" y2="347.43" stroke="#383838" stroke-width="0.95" />
<line x1="73.02" y1="327.12" x2="73.02" y2="347.33" stroke="#383838" stroke-width="0.95" />
<line x1="74.96" y1="327.51" x2="74.96" y2="347.4" stroke="#383838" stroke-width="0.95" />
<line x1="76.9" y1="327.42" x2="76.9" y2="347.11" stroke="#383838" stroke-width="0.95" />
<line x1="51.2" y1="339.6" x2="77.4" y2="339.6" stroke="#111" stroke-width="1.7" />
<line x1="81.1" y1="320.02" x2="81.1" y2="353.05" stroke="#f0344e" stroke-width="0.95" />
<line x1="83.04" y1="319.52" x2="83.04" y2="353.22" stroke="#f0344e" stroke-width="0.95" />
<line x1="84.98" y1="319.62" x2="84.98" y2="353.47" stroke="#f0344e" stroke-width="0.95" />
<line x1="86.92" y1="320.15" x2="86.92" y2="353.35" stroke="#f0344e" stroke-width="0.95" />
<line x1="88.85" y1="319.47" x2="88.85" y2="353.17" stroke="#f0344e" stroke-width="0.95" />
<line x1="90.79" y1="319.87" x2="90.79" y2="353.04" stroke="#f0344e" stroke-width="0.95" />
<line x1="92.73" y1="319.72" x2="92.73" y2="353.28" stroke="#f0344e" stroke-width="0.95" />
<line x1="94.67" y1="319.35" x2="94.67" y2="352.95" stroke="#f0344e" stroke-width="0.95" />
<line x1="96.61" y1="319.95" x2="96.61" y2="353.05" stroke="#f0344e" stroke-width="0.95" />
<line x1="98.55" y1="319.64" x2="98.55" y2="352.81" stroke="#f0344e" stroke-width="0.95" />
<line x1="100.48" y1="319.42" x2="100.48" y2="353.29" stroke="#f0344e" stroke-width="0.95" />
<line x1="102.42" y1="319.15" x2="102.42" y2="353.43" stroke="#f0344e" stroke-width="0.95" />
<line x1="104.36" y1="319.76" x2="104.36" y2="352.9" stroke="#f0344e" stroke-width="0.95" />
<line x1="106.3" y1="320.05" x2="106.3" y2="353.12" stroke="#f0344e" stroke-width="0.95" />
<line x1="80.6" y1="339.6" x2="106.8" y2="339.6" stroke="#ee1020" stroke-width="1.7" />
<line x1="110" y1="314.3" x2="110" y2="352.98" stroke="#4646f2" stroke-width="0.95" />
<line x1="111.94" y1="313.51" x2="111.94" y2="353.05" stroke="#4646f2" stroke-width="0.95" />
<line x1="113.87" y1="313.39" x2="113.87" y2="353.27" stroke="#4646f2" stroke-width="0.95" />
<line x1="115.81" y1="313.59" x2="115.81" y2="353.04" stroke="#4646f2" stroke-width="0.95" />
<line x1="117.74" y1="313.71" x2="117.74" y2="353.15" stroke="#4646f2" stroke-width="0.95" />
<line x1="119.68" y1="313.43" x2="119.68" y2="352.75" stroke="#4646f2" stroke-width="0.95" />
<line x1="121.61" y1="313.83" x2="121.61" y2="352.98" stroke="#4646f2" stroke-width="0.95" />
<line x1="123.55" y1="314.28" x2="123.55" y2="352.95" stroke="#4646f2" stroke-width="0.95" />
<line x1="125.49" y1="313.64" x2="125.49" y2="352.71" stroke="#4646f2" stroke-width="0.95" />
<line x1="127.42" y1="313.45" x2="127.42" y2="353.29" stroke="#4646f2" stroke-width="0.95" />
<line x1="129.36" y1="313.93" x2="129.36" y2="352.98" stroke="#4646f2" stroke-width="0.95" />
<line x1="131.29" y1="314.32" x2="131.29" y2="353.14" stroke="#4646f2" stroke-width="0.95" />
<line x1="133.23" y1="314.16" x2="133.23" y2="353.43" stroke="#4646f2" stroke-width="0.95" />
<line x1="135.16" y1="314.28" x2="135.16" y2="352.89" stroke="#4646f2" stroke-width="0.95" />
<line x1="137.1" y1="314.21" x2="137.1" y2="353.32" stroke="#4646f2" stroke-width="0.95" />
<line x1="109.5" y1="339.6" x2="137.6" y2="339.6" stroke="#1a1ae8" stroke-width="1.7" />
<line x1="139.2" y1="300.68" x2="139.2" y2="364.96" stroke="#1eba92" stroke-width="0.95" />
<line x1="141.11" y1="301.62" x2="141.11" y2="366" stroke="#1eba92" stroke-width="0.95" />
<line x1="143.03" y1="300.21" x2="143.03" y2="364.93" stroke="#1eba92" stroke-width="0.95" />
<line x1="144.94" y1="299.4" x2="144.94" y2="364.98" stroke="#1eba92" stroke-width="0.95" />
<line x1="146.86" y1="301.02" x2="146.86" y2="366.08" stroke="#1eba92" stroke-width="0.95" />
<line x1="148.77" y1="300.78" x2="148.77" y2="364.93" stroke="#1eba92" stroke-width="0.95" />
<line x1="150.69" y1="298.98" x2="150.69" y2="366.73" stroke="#1eba92" stroke-width="0.95" />
<line x1="152.6" y1="301.33" x2="152.6" y2="366.53" stroke="#1eba92" stroke-width="0.95" />
<line x1="154.51" y1="301.16" x2="154.51" y2="365.91" stroke="#1eba92" stroke-width="0.95" />
<line x1="156.43" y1="300.09" x2="156.43" y2="366.46" stroke="#1eba92" stroke-width="0.95" />
<line x1="158.34" y1="301.85" x2="158.34" y2="366.08" stroke="#1eba92" stroke-width="0.95" />
<line x1="160.26" y1="300.75" x2="160.26" y2="365.71" stroke="#1eba92" stroke-width="0.95" />
<line x1="162.17" y1="299" x2="162.17" y2="365.41" stroke="#1eba92" stroke-width="0.95" />
<line x1="164.09" y1="300.31" x2="164.09" y2="365.59" stroke="#1eba92" stroke-width="0.95" />
<line x1="166" y1="299.83" x2="166" y2="366.97" stroke="#1eba92" stroke-width="0.95" />
<line x1="138.7" y1="339.6" x2="166.5" y2="339.6" stroke="#0e9a72" stroke-width="1.7" />
<rect x="44.2" y="292.1" width="126.7" height="94.8" fill="none" stroke="#2a2a2a" stroke-width="1.3"/>
<line x1="42.8" y1="380.55" x2="44.2" y2="380.55" stroke="#222" stroke-width="0.9" />
<text x="41.6" y="382.85" font-size="6.6" fill="#222" stroke="#222" stroke-width="0.4" font-weight="bold" text-anchor="end" font-family='"Liberation Sans",sans-serif' >-600</text>
<line x1="42.8" y1="366.9" x2="44.2" y2="366.9" stroke="#222" stroke-width="0.9" />
<text x="41.6" y="369.2" font-size="6.6" fill="#222" stroke="#222" stroke-width="0.4" font-weight="bold" text-anchor="end" font-family='"Liberation Sans",sans-serif' >-400</text>
<line x1="42.8" y1="353.25" x2="44.2" y2="353.25" stroke="#222" stroke-width="0.9" />
<text x="41.6" y="355.55" font-size="6.6" fill="#222" stroke="#222" stroke-width="0.4" font-weight="bold" text-anchor="end" font-family='"Liberation Sans",sans-serif' >-200</text>
<line x1="42.8" y1="339.6" x2="44.2" y2="339.6" stroke="#222" stroke-width="0.9" />
<text x="41.6" y="341.9" font-size="6.6" fill="#222" stroke="#222" stroke-width="0.4" font-weight="bold" text-anchor="end" font-family='"Liberation Sans",sans-serif' >0</text>
<line x1="42.8" y1="325.95" x2="44.2" y2="325.95" stroke="#222" stroke-width="0.9" />
<text x="41.6" y="328.25" font-size="6.6" fill="#222" stroke="#222" stroke-width="0.4" font-weight="bold" text-anchor="end" font-family='"Liberation Sans",sans-serif' >200</text>
<line x1="42.8" y1="312.3" x2="44.2" y2="312.3" stroke="#222" stroke-width="0.9" />
<text x="41.6" y="314.6" font-size="6.6" fill="#222" stroke="#222" stroke-width="0.4" font-weight="bold" text-anchor="end" font-family='"Liberation Sans",sans-serif' >400</text>
<line x1="42.8" y1="298.65" x2="44.2" y2="298.65" stroke="#222" stroke-width="0.9" />
<text x="41.6" y="300.95" font-size="6.6" fill="#222" stroke="#222" stroke-width="0.4" font-weight="bold" text-anchor="end" font-family='"Liberation Sans",sans-serif' >600</text>
<line x1="43.4" y1="373.73" x2="44.2" y2="373.73" stroke="#222" stroke-width="0.8" />
<line x1="43.4" y1="360.08" x2="44.2" y2="360.08" stroke="#222" stroke-width="0.8" />
<line x1="43.4" y1="346.43" x2="44.2" y2="346.43" stroke="#222" stroke-width="0.8" />
<line x1="43.4" y1="332.78" x2="44.2" y2="332.78" stroke="#222" stroke-width="0.8" />
<line x1="43.4" y1="319.12" x2="44.2" y2="319.12" stroke="#222" stroke-width="0.8" />
<line x1="43.4" y1="305.48" x2="44.2" y2="305.48" stroke="#222" stroke-width="0.8" />
<line x1="51.1" y1="386.9" x2="51.1" y2="388.3" stroke="#222" stroke-width="0.9" />
<text x="51.1" y="395.6" font-size="6.6" fill="#222" stroke="#222" stroke-width="0.4" font-weight="bold" text-anchor="middle" font-family='"Liberation Sans",sans-serif' >0</text>
<line x1="77.85" y1="386.9" x2="77.85" y2="388.3" stroke="#222" stroke-width="0.9" />
<text x="77.85" y="395.6" font-size="6.6" fill="#222" stroke="#222" stroke-width="0.4" font-weight="bold" text-anchor="middle" font-family='"Liberation Sans",sans-serif' >1</text>
<line x1="104.6" y1="386.9" x2="104.6" y2="388.3" stroke="#222" stroke-width="0.9" />
<text x="104.6" y="395.6" font-size="6.6" fill="#222" stroke="#222" stroke-width="0.4" font-weight="bold" text-anchor="middle" font-family='"Liberation Sans",sans-serif' >2</text>
<line x1="131.35" y1="386.9" x2="131.35" y2="388.3" stroke="#222" stroke-width="0.9" />
<text x="131.35" y="395.6" font-size="6.6" fill="#222" stroke="#222" stroke-width="0.4" font-weight="bold" text-anchor="middle" font-family='"Liberation Sans",sans-serif' >3</text>
<line x1="158.1" y1="386.9" x2="158.1" y2="388.3" stroke="#222" stroke-width="0.9" />
<text x="158.1" y="395.6" font-size="6.6" fill="#222" stroke="#222" stroke-width="0.4" font-weight="bold" text-anchor="middle" font-family='"Liberation Sans",sans-serif' >4</text>
<line x1="64.47" y1="386.9" x2="64.47" y2="387.7" stroke="#222" stroke-width="0.8" />
<line x1="91.22" y1="386.9" x2="91.22" y2="387.7" stroke="#222" stroke-width="0.8" />
<line x1="117.97" y1="386.9" x2="117.97" y2="387.7" stroke="#222" stroke-width="0.8" />
<line x1="144.72" y1="386.9" x2="144.72" y2="387.7" stroke="#222" stroke-width="0.8" />
<text x="107" y="402.5" font-size="7.9" fill="#111" stroke="#111" stroke-width="0.22" font-weight="bold" text-anchor="middle" font-family='"Liberation Sans",sans-serif' >Time/s</text>
<text transform="translate(24.4,340.8) rotate(-90)" font-size="8.4" fill="#111" stroke="#111" stroke-width="0.25" font-weight="bold" text-anchor="middle" font-family='"Liberation Sans",sans-serif'><tspan font-style="italic">V</tspan><tspan font-size="4.6" dy="1.9">oc</tspan><tspan dy="-1.9">/V</tspan></text>
<line x1="49.8" y1="354.8" x2="59" y2="354.8" stroke="#383838" stroke-width="1" />
<text x="61.4" y="356.7" font-size="5.4" fill="#222" stroke="#222" stroke-width="0.4" font-weight="bold" text-anchor="start" font-family='"Liberation Sans",sans-serif' >PDMS</text>
<line x1="49.8" y1="361.7" x2="59" y2="361.7" stroke="#f0344e" stroke-width="1" />
<text x="61.4" y="363.6" font-size="5.6" fill="#222" stroke="#222" stroke-width="0.4" font-weight="bold" text-anchor="start" font-family='"Liberation Sans",sans-serif' >F<tspan font-size="3.4" dy="2.3" dx="0.3">13</tspan><tspan dy="-2.3" dx="0.3"> SAM</tspan></text>
<line x1="49.8" y1="370.6" x2="59" y2="370.6" stroke="#4646f2" stroke-width="1" />
<text x="61.4" y="372.5" font-size="5.6" fill="#222" stroke="#222" stroke-width="0.4" font-weight="bold" text-anchor="start" font-family='"Liberation Sans",sans-serif' >F<tspan font-size="3.4" dy="2.3" dx="0.3">17</tspan><tspan dy="-2.3" dx="0.3"> SAM</tspan></text>
<line x1="49.8" y1="379.6" x2="59" y2="379.6" stroke="#1eba92" stroke-width="1" />
<text x="61.4" y="381.5" font-size="5.6" fill="#222" stroke="#222" stroke-width="0.4" font-weight="bold" text-anchor="start" font-family='"Liberation Sans",sans-serif' >F<tspan font-size="3.4" dy="2.3" dx="0.3">21</tspan><tspan dy="-2.3" dx="0.3"> SAM</tspan></text>
<line x1="221.4" y1="328.04" x2="221.4" y2="347.59" stroke="#7a7a7a" stroke-width="1" />
<line x1="223.39" y1="328.11" x2="223.39" y2="347.55" stroke="#7a7a7a" stroke-width="1" />
<line x1="225.37" y1="329.61" x2="225.37" y2="348.37" stroke="#7a7a7a" stroke-width="1" />
<line x1="227.36" y1="330.5" x2="227.36" y2="347.89" stroke="#7a7a7a" stroke-width="1" />
<line x1="229.34" y1="330.63" x2="229.34" y2="349.04" stroke="#7a7a7a" stroke-width="1" />
<line x1="231.33" y1="330.17" x2="231.33" y2="348.85" stroke="#7a7a7a" stroke-width="1" />
<line x1="233.31" y1="329.77" x2="233.31" y2="349.07" stroke="#7a7a7a" stroke-width="1" />
<line x1="235.3" y1="330.82" x2="235.3" y2="348.87" stroke="#7a7a7a" stroke-width="1" />
<line x1="237.29" y1="330.51" x2="237.29" y2="348.44" stroke="#7a7a7a" stroke-width="1" />
<line x1="239.27" y1="330.74" x2="239.27" y2="347.4" stroke="#7a7a7a" stroke-width="1" />
<line x1="241.26" y1="328.92" x2="241.26" y2="348.88" stroke="#7a7a7a" stroke-width="1" />
<line x1="243.24" y1="330.04" x2="243.24" y2="348.47" stroke="#7a7a7a" stroke-width="1" />
<line x1="245.23" y1="329.69" x2="245.23" y2="348.93" stroke="#7a7a7a" stroke-width="1" />
<line x1="247.21" y1="328.19" x2="247.21" y2="347.15" stroke="#7a7a7a" stroke-width="1" />
<line x1="249.2" y1="329.38" x2="249.2" y2="348.19" stroke="#7a7a7a" stroke-width="1" />
<polyline points="221.4,338.92 221.87,338.97 222.34,339.59 222.81,339.39 223.28,340.86 223.76,339.12 224.23,338.76 224.7,341.17 225.17,340.07 225.64,339.08 226.11,340.11 226.58,338.77 227.05,340.07 227.53,341.24 228,340.94 228.47,340.51 228.94,339.38 229.41,339.65 229.88,339.13 230.35,340.71 230.82,340.08 231.29,340.73 231.77,339.56 232.24,339.28 232.71,340.81 233.18,341.26 233.65,340.92 234.12,340.8 234.59,340.83 235.06,340.62 235.54,339.29 236.01,340.05 236.48,339.62 236.95,338.78 237.42,338.77 237.89,339.43 238.36,339.37 238.83,340.5 239.31,341.19 239.78,339.86 240.25,341.14 240.72,341.27 241.19,341.18 241.66,339.65 242.13,339.27 242.6,339.29 243.07,339.21 243.55,339.23 244.02,340.32 244.49,341.04 244.96,340.89 245.43,339.95 245.9,340.4 246.37,340.78 246.84,338.92 247.32,340.42 247.79,341.07 248.26,340.73 248.73,340.65 249.2,339.94" fill="none" stroke="#111" stroke-width="1.82" />
<line x1="221.4" y1="340" x2="249.2" y2="340" stroke="#111" stroke-width="2.6" />
<line x1="251.5" y1="317.09" x2="251.5" y2="355.73" stroke="#f0344e" stroke-width="1" />
<line x1="253.32" y1="316.68" x2="253.32" y2="355.71" stroke="#f0344e" stroke-width="1" />
<line x1="255.14" y1="314.98" x2="255.14" y2="356.53" stroke="#f0344e" stroke-width="1" />
<line x1="256.96" y1="316.5" x2="256.96" y2="355.41" stroke="#f0344e" stroke-width="1" />
<line x1="258.79" y1="315.64" x2="258.79" y2="356.99" stroke="#f0344e" stroke-width="1" />
<line x1="260.61" y1="317.22" x2="260.61" y2="357.03" stroke="#f0344e" stroke-width="1" />
<line x1="262.43" y1="315.16" x2="262.43" y2="355.69" stroke="#f0344e" stroke-width="1" />
<line x1="264.25" y1="317.17" x2="264.25" y2="355.65" stroke="#f0344e" stroke-width="1" />
<line x1="266.07" y1="314.96" x2="266.07" y2="356" stroke="#f0344e" stroke-width="1" />
<line x1="267.89" y1="316.63" x2="267.89" y2="356.22" stroke="#f0344e" stroke-width="1" />
<line x1="269.71" y1="317.21" x2="269.71" y2="357.31" stroke="#f0344e" stroke-width="1" />
<line x1="271.54" y1="314.99" x2="271.54" y2="356.01" stroke="#f0344e" stroke-width="1" />
<line x1="273.36" y1="316.16" x2="273.36" y2="355.44" stroke="#f0344e" stroke-width="1" />
<line x1="275.18" y1="316.41" x2="275.18" y2="355.56" stroke="#f0344e" stroke-width="1" />
<line x1="277" y1="315.37" x2="277" y2="356.91" stroke="#f0344e" stroke-width="1" />
<polyline points="251.5,339.35 251.93,339.46 252.36,339.33 252.8,340.22 253.23,339.37 253.66,339.79 254.09,339.04 254.53,341.07 254.96,339.62 255.39,339.89 255.82,340.22 256.25,341.05 256.69,339.79 257.12,341.09 257.55,340 257.98,340.08 258.42,340.06 258.85,338.75 259.28,339.84 259.71,339.18 260.14,338.71 260.58,340.78 261.01,339.15 261.44,339.93 261.87,340.59 262.31,340.15 262.74,339.55 263.17,340.05 263.6,340.14 264.03,340.74 264.47,338.98 264.9,340.16 265.33,339.35 265.76,339.42 266.19,340.71 266.63,340.02 267.06,340.16 267.49,340.68 267.92,341.07 268.36,339.85 268.79,340.29 269.22,340.01 269.65,340.03 270.08,340.5 270.52,339.88 270.95,340.09 271.38,339.94 271.81,341.15 272.25,340.52 272.68,340.98 273.11,341.15 273.54,339.37 273.97,340.15 274.41,341.15 274.84,340.88 275.27,339.06 275.7,339.02 276.14,339.85 276.57,338.89 277,339.33" fill="none" stroke="#ee1020" stroke-width="1.26" />
<line x1="251.5" y1="340" x2="277" y2="340" stroke="#ee1020" stroke-width="1.8" />
<line x1="281.4" y1="316.01" x2="281.4" y2="353.93" stroke="#4646f2" stroke-width="1" />
<line x1="283.22" y1="314.12" x2="283.22" y2="353.47" stroke="#4646f2" stroke-width="1" />
<line x1="285.04" y1="315.79" x2="285.04" y2="353.84" stroke="#4646f2" stroke-width="1" />
<line x1="286.86" y1="314.45" x2="286.86" y2="355.01" stroke="#4646f2" stroke-width="1" />
<line x1="288.69" y1="313.86" x2="288.69" y2="353.33" stroke="#4646f2" stroke-width="1" />
<line x1="290.51" y1="315.62" x2="290.51" y2="353.36" stroke="#4646f2" stroke-width="1" />
<line x1="292.33" y1="315.14" x2="292.33" y2="354.31" stroke="#4646f2" stroke-width="1" />
<line x1="294.15" y1="313.57" x2="294.15" y2="353.6" stroke="#4646f2" stroke-width="1" />
<line x1="295.97" y1="315.77" x2="295.97" y2="354.42" stroke="#4646f2" stroke-width="1" />
<line x1="297.79" y1="314.83" x2="297.79" y2="354.61" stroke="#4646f2" stroke-width="1" />
<line x1="299.61" y1="315.68" x2="299.61" y2="354.65" stroke="#4646f2" stroke-width="1" />
<line x1="301.44" y1="314.28" x2="301.44" y2="355.26" stroke="#4646f2" stroke-width="1" />
<line x1="303.26" y1="314.73" x2="303.26" y2="354.4" stroke="#4646f2" stroke-width="1" />
<line x1="305.08" y1="316.15" x2="305.08" y2="354.62" stroke="#4646f2" stroke-width="1" />
<line x1="306.9" y1="314.55" x2="306.9" y2="354.25" stroke="#4646f2" stroke-width="1" />
<polyline points="281.4,338.87 281.83,341.26 282.26,340.75 282.7,341.23 283.13,338.97 283.56,339.39 283.99,338.8 284.43,340.73 284.86,339.4 285.29,339.04 285.72,339.8 286.15,341.07 286.59,340.83 287.02,339.37 287.45,339.09 287.88,341.09 288.32,340.18 288.75,340.52 289.18,338.93 289.61,338.85 290.04,340.49 290.48,339.81 290.91,338.89 291.34,341.14 291.77,340.35 292.21,340.78 292.64,338.92 293.07,340.93 293.5,338.87 293.93,340.94 294.37,339.88 294.8,339.58 295.23,340.14 295.66,341.11 296.09,339.4 296.53,339.04 296.96,340.07 297.39,339.32 297.82,338.98 298.26,339.12 298.69,338.83 299.12,339.22 299.55,339.51 299.98,339.49 300.42,340.67 300.85,339.45 301.28,340 301.71,339.16 302.15,339.6 302.58,338.75 303.01,339.35 303.44,338.74 303.87,340.61 304.31,340.13 304.74,339.19 305.17,339.93 305.6,341.13 306.04,338.98 306.47,340.83 306.9,339.82" fill="none" stroke="#1a1ae8" stroke-width="1.26" />
<line x1="281.4" y1="340" x2="306.9" y2="340" stroke="#1a1ae8" stroke-width="1.8" />
<line x1="310.3" y1="308.18" x2="310.3" y2="375.57" stroke="#1eba92" stroke-width="1" />
<line x1="312.21" y1="308.99" x2="312.21" y2="378.7" stroke="#1eba92" stroke-width="1" />
<line x1="314.11" y1="306.65" x2="314.11" y2="374.17" stroke="#1eba92" stroke-width="1" />
<line x1="316.02" y1="309.39" x2="316.02" y2="375.6" stroke="#1eba92" stroke-width="1" />
<line x1="317.93" y1="306.5" x2="317.93" y2="377.47" stroke="#1eba92" stroke-width="1" />
<line x1="319.84" y1="308.9" x2="319.84" y2="380.21" stroke="#1eba92" stroke-width="1" />
<line x1="321.74" y1="311.69" x2="321.74" y2="382.28" stroke="#1eba92" stroke-width="1" />
<line x1="323.65" y1="311.56" x2="323.65" y2="376.47" stroke="#1eba92" stroke-width="1" />
<line x1="325.56" y1="310.09" x2="325.56" y2="381.97" stroke="#1eba92" stroke-width="1" />
<line x1="327.46" y1="311.45" x2="327.46" y2="375.51" stroke="#1eba92" stroke-width="1" />
<line x1="329.37" y1="305.19" x2="329.37" y2="377.14" stroke="#1eba92" stroke-width="1" />
<line x1="331.28" y1="309.88" x2="331.28" y2="381.21" stroke="#1eba92" stroke-width="1" />
<line x1="333.19" y1="309.79" x2="333.19" y2="379.15" stroke="#1eba92" stroke-width="1" />
<line x1="335.09" y1="310.87" x2="335.09" y2="379.28" stroke="#1eba92" stroke-width="1" />
<line x1="337" y1="310.03" x2="337" y2="374.36" stroke="#1eba92" stroke-width="1" />
<polyline points="310.3,343.07 310.75,340.31 311.21,338.34 311.66,343.03 312.11,338.76 312.56,339.07 313.02,336.76 313.47,339.23 313.92,339.84 314.37,340.02 314.83,338.06 315.28,340.03 315.73,336.78 316.18,338.47 316.64,337.33 317.09,339.35 317.54,337.02 317.99,336.9 318.45,338.73 318.9,338.26 319.35,340.56 319.8,340.19 320.26,341.63 320.71,341.02 321.16,341.4 321.61,342.46 322.07,339.28 322.52,338.87 322.97,343.15 323.42,337.72 323.88,341.46 324.33,340.93 324.78,337.03 325.23,342.18 325.69,342.55 326.14,340.83 326.59,341.52 327.04,342.03 327.5,337.66 327.95,340.15 328.4,340.03 328.85,342.18 329.31,341.98 329.76,342.12 330.21,340.55 330.66,342.55 331.12,341.19 331.57,341.26 332.02,338.24 332.47,336.95 332.93,337.62 333.38,339.09 333.83,337.43 334.28,342.18 334.74,340.38 335.19,340.83 335.64,340.82 336.09,341.17 336.55,339.93 337,336.77" fill="none" stroke="#0e9a72" stroke-width="1.26" />
<line x1="310.3" y1="340" x2="337" y2="340" stroke="#0e9a72" stroke-width="1.8" />
<line x1="311.3" y1="330.62" x2="311.3" y2="349.73" stroke="#0f8a68" stroke-width="1" />
<line x1="313.2" y1="332.98" x2="313.2" y2="347.82" stroke="#0f8a68" stroke-width="1" />
<line x1="315.1" y1="331.73" x2="315.1" y2="343.59" stroke="#0f8a68" stroke-width="1" />
<line x1="317" y1="331.11" x2="317" y2="345.27" stroke="#0f8a68" stroke-width="1" />
<line x1="318.9" y1="336.4" x2="318.9" y2="345.39" stroke="#0f8a68" stroke-width="1" />
<line x1="320.8" y1="331.17" x2="320.8" y2="344.85" stroke="#0f8a68" stroke-width="1" />
<line x1="322.7" y1="331.08" x2="322.7" y2="351.78" stroke="#0f8a68" stroke-width="1" />
<line x1="324.6" y1="333.05" x2="324.6" y2="346.44" stroke="#0f8a68" stroke-width="1" />
<line x1="326.5" y1="333.17" x2="326.5" y2="349.15" stroke="#0f8a68" stroke-width="1" />
<line x1="328.4" y1="330.86" x2="328.4" y2="348.55" stroke="#0f8a68" stroke-width="1" />
<line x1="330.3" y1="331.86" x2="330.3" y2="343.7" stroke="#0f8a68" stroke-width="1" />
<line x1="332.2" y1="335.82" x2="332.2" y2="345.29" stroke="#0f8a68" stroke-width="1" />
<line x1="334.1" y1="331.05" x2="334.1" y2="345.74" stroke="#0f8a68" stroke-width="1" />
<line x1="336" y1="332.46" x2="336" y2="343.11" stroke="#0f8a68" stroke-width="1" />
<rect x="214.4" y="293" width="128.1" height="94.8" fill="none" stroke="#2a2a2a" stroke-width="1.3"/>
<line x1="213" y1="380.8" x2="214.4" y2="380.8" stroke="#222" stroke-width="0.9" />
<text x="210.8" y="383.1" font-size="6.6" fill="#222" stroke="#222" stroke-width="0.4" font-weight="bold" text-anchor="end" font-family='"Liberation Sans",sans-serif' >-60</text>
<line x1="213" y1="367.2" x2="214.4" y2="367.2" stroke="#222" stroke-width="0.9" />
<text x="210.8" y="369.5" font-size="6.6" fill="#222" stroke="#222" stroke-width="0.4" font-weight="bold" text-anchor="end" font-family='"Liberation Sans",sans-serif' >-40</text>
<line x1="213" y1="353.6" x2="214.4" y2="353.6" stroke="#222" stroke-width="0.9" />
<text x="210.8" y="355.9" font-size="6.6" fill="#222" stroke="#222" stroke-width="0.4" font-weight="bold" text-anchor="end" font-family='"Liberation Sans",sans-serif' >-20</text>
<line x1="213" y1="340" x2="214.4" y2="340" stroke="#222" stroke-width="0.9" />
<text x="210.8" y="342.3" font-size="6.6" fill="#222" stroke="#222" stroke-width="0.4" font-weight="bold" text-anchor="end" font-family='"Liberation Sans",sans-serif' >0</text>
<line x1="213" y1="326.4" x2="214.4" y2="326.4" stroke="#222" stroke-width="0.9" />
<text x="210.8" y="328.7" font-size="6.6" fill="#222" stroke="#222" stroke-width="0.4" font-weight="bold" text-anchor="end" font-family='"Liberation Sans",sans-serif' >20</text>
<line x1="213" y1="312.8" x2="214.4" y2="312.8" stroke="#222" stroke-width="0.9" />
<text x="210.8" y="315.1" font-size="6.6" fill="#222" stroke="#222" stroke-width="0.4" font-weight="bold" text-anchor="end" font-family='"Liberation Sans",sans-serif' >40</text>
<line x1="213" y1="299.2" x2="214.4" y2="299.2" stroke="#222" stroke-width="0.9" />
<text x="210.8" y="301.5" font-size="6.6" fill="#222" stroke="#222" stroke-width="0.4" font-weight="bold" text-anchor="end" font-family='"Liberation Sans",sans-serif' >60</text>
<line x1="213.6" y1="374" x2="214.4" y2="374" stroke="#222" stroke-width="0.8" />
<line x1="213.6" y1="360.4" x2="214.4" y2="360.4" stroke="#222" stroke-width="0.8" />
<line x1="213.6" y1="346.8" x2="214.4" y2="346.8" stroke="#222" stroke-width="0.8" />
<line x1="213.6" y1="333.2" x2="214.4" y2="333.2" stroke="#222" stroke-width="0.8" />
<line x1="213.6" y1="319.6" x2="214.4" y2="319.6" stroke="#222" stroke-width="0.8" />
<line x1="213.6" y1="306" x2="214.4" y2="306" stroke="#222" stroke-width="0.8" />
<line x1="221.4" y1="387.8" x2="221.4" y2="389.2" stroke="#222" stroke-width="0.9" />
<text x="221.4" y="395.6" font-size="6.6" fill="#222" stroke="#222" stroke-width="0.4" font-weight="bold" text-anchor="middle" font-family='"Liberation Sans",sans-serif' >0</text>
<line x1="248.4" y1="387.8" x2="248.4" y2="389.2" stroke="#222" stroke-width="0.9" />
<text x="248.4" y="395.6" font-size="6.6" fill="#222" stroke="#222" stroke-width="0.4" font-weight="bold" text-anchor="middle" font-family='"Liberation Sans",sans-serif' >1</text>
<line x1="275.4" y1="387.8" x2="275.4" y2="389.2" stroke="#222" stroke-width="0.9" />
<text x="275.4" y="395.6" font-size="6.6" fill="#222" stroke="#222" stroke-width="0.4" font-weight="bold" text-anchor="middle" font-family='"Liberation Sans",sans-serif' >2</text>
<line x1="302.4" y1="387.8" x2="302.4" y2="389.2" stroke="#222" stroke-width="0.9" />
<text x="302.4" y="395.6" font-size="6.6" fill="#222" stroke="#222" stroke-width="0.4" font-weight="bold" text-anchor="middle" font-family='"Liberation Sans",sans-serif' >3</text>
<line x1="329.4" y1="387.8" x2="329.4" y2="389.2" stroke="#222" stroke-width="0.9" />
<text x="329.4" y="395.6" font-size="6.6" fill="#222" stroke="#222" stroke-width="0.4" font-weight="bold" text-anchor="middle" font-family='"Liberation Sans",sans-serif' >4</text>
<line x1="234.9" y1="387.8" x2="234.9" y2="388.6" stroke="#222" stroke-width="0.8" />
<line x1="261.9" y1="387.8" x2="261.9" y2="388.6" stroke="#222" stroke-width="0.8" />
<line x1="288.9" y1="387.8" x2="288.9" y2="388.6" stroke="#222" stroke-width="0.8" />
<line x1="315.9" y1="387.8" x2="315.9" y2="388.6" stroke="#222" stroke-width="0.8" />
<text x="278.7" y="405.8" font-size="8.3" fill="#111" stroke="#111" stroke-width="0.22" font-weight="bold" text-anchor="middle" font-family='"Liberation Sans",sans-serif' >Time/s</text>
<text transform="translate(194.6,344.4) rotate(-90)" font-size="8.0" fill="#111" stroke="#111" stroke-width="0.25" font-weight="bold" text-anchor="middle" font-family='"Liberation Sans",sans-serif'><tspan font-style="italic">I</tspan><tspan font-size="4.6" dy="1.9">sc</tspan><tspan dy="-1.9">/ μA</tspan></text>
<line x1="218.4" y1="354.7" x2="227.6" y2="354.7" stroke="#383838" stroke-width="1" />
<text x="229.8" y="356.6" font-size="5.4" fill="#222" stroke="#222" stroke-width="0.4" font-weight="bold" text-anchor="start" font-family='"Liberation Sans",sans-serif' >PDMS</text>
<line x1="218.4" y1="361.8" x2="227.6" y2="361.8" stroke="#f0344e" stroke-width="1" />
<text x="229.8" y="363.7" font-size="5.6" fill="#222" stroke="#222" stroke-width="0.4" font-weight="bold" text-anchor="start" font-family='"Liberation Sans",sans-serif' >F<tspan font-size="3.4" dy="2.3" dx="0.3">13</tspan><tspan dy="-2.3" dx="0.3"> SAM</tspan></text>
<line x1="218.4" y1="371" x2="227.6" y2="371" stroke="#4646f2" stroke-width="1" />
<text x="229.8" y="372.9" font-size="5.6" fill="#222" stroke="#222" stroke-width="0.4" font-weight="bold" text-anchor="start" font-family='"Liberation Sans",sans-serif' >F<tspan font-size="3.4" dy="2.3" dx="0.3">17</tspan><tspan dy="-2.3" dx="0.3"> SAM</tspan></text>
<line x1="218.4" y1="379.8" x2="227.6" y2="379.8" stroke="#1eba92" stroke-width="1" />
<text x="229.8" y="381.7" font-size="5.6" fill="#222" stroke="#222" stroke-width="0.4" font-weight="bold" text-anchor="start" font-family='"Liberation Sans",sans-serif' >F<tspan font-size="3.4" dy="2.3" dx="0.3">21</tspan><tspan dy="-2.3" dx="0.3"> SAM</tspan></text>
<rect x="409.5" y="356.62" width="24.1" height="28.88" fill="#d4d4d4"/>
<line x1="409.5" y1="356.62" x2="409.5" y2="385.8" stroke="#2a2a2a" stroke-width="1.45" />
<line x1="412.51" y1="356.62" x2="412.51" y2="385.8" stroke="#2a2a2a" stroke-width="1.45" />
<line x1="415.52" y1="356.62" x2="415.52" y2="385.8" stroke="#2a2a2a" stroke-width="1.45" />
<line x1="418.54" y1="356.62" x2="418.54" y2="385.8" stroke="#2a2a2a" stroke-width="1.45" />
<line x1="421.55" y1="356.62" x2="421.55" y2="385.8" stroke="#2a2a2a" stroke-width="1.45" />
<line x1="424.56" y1="356.62" x2="424.56" y2="385.8" stroke="#2a2a2a" stroke-width="1.45" />
<line x1="427.58" y1="356.62" x2="427.58" y2="385.8" stroke="#2a2a2a" stroke-width="1.45" />
<line x1="430.59" y1="356.62" x2="430.59" y2="385.8" stroke="#2a2a2a" stroke-width="1.45" />
<line x1="433.6" y1="356.62" x2="433.6" y2="385.8" stroke="#2a2a2a" stroke-width="1.45" />
<line x1="409" y1="385.7" x2="434.1" y2="385.7" stroke="#2a2a2a" stroke-width="0.8" />
<rect x="438.8" y="347.88" width="26.1" height="37.62" fill="#fbd0d8"/>
<line x1="438.8" y1="347.88" x2="438.8" y2="385.8" stroke="#f01a3c" stroke-width="1.45" />
<line x1="441.7" y1="347.88" x2="441.7" y2="385.8" stroke="#f01a3c" stroke-width="1.45" />
<line x1="444.6" y1="347.88" x2="444.6" y2="385.8" stroke="#f01a3c" stroke-width="1.45" />
<line x1="447.5" y1="347.88" x2="447.5" y2="385.8" stroke="#f01a3c" stroke-width="1.45" />
<line x1="450.4" y1="347.88" x2="450.4" y2="385.8" stroke="#f01a3c" stroke-width="1.45" />
<line x1="453.3" y1="347.88" x2="453.3" y2="385.8" stroke="#f01a3c" stroke-width="1.45" />
<line x1="456.2" y1="347.88" x2="456.2" y2="385.8" stroke="#f01a3c" stroke-width="1.45" />
<line x1="459.1" y1="347.88" x2="459.1" y2="385.8" stroke="#f01a3c" stroke-width="1.45" />
<line x1="462" y1="347.88" x2="462" y2="385.8" stroke="#f01a3c" stroke-width="1.45" />
<line x1="464.9" y1="347.88" x2="464.9" y2="385.8" stroke="#f01a3c" stroke-width="1.45" />
<line x1="438.3" y1="385.7" x2="465.4" y2="385.7" stroke="#f01a3c" stroke-width="0.8" />
<rect x="470.9" y="337.38" width="23.7" height="48.12" fill="#dcdcfc"/>
<line x1="470.9" y1="337.38" x2="470.9" y2="385.8" stroke="#2a2afa" stroke-width="1.45" />
<line x1="473.86" y1="337.38" x2="473.86" y2="385.8" stroke="#2a2afa" stroke-width="1.45" />
<line x1="476.82" y1="337.38" x2="476.82" y2="385.8" stroke="#2a2afa" stroke-width="1.45" />
<line x1="479.79" y1="337.38" x2="479.79" y2="385.8" stroke="#2a2afa" stroke-width="1.45" />
<line x1="482.75" y1="337.38" x2="482.75" y2="385.8" stroke="#2a2afa" stroke-width="1.45" />
<line x1="485.71" y1="337.38" x2="485.71" y2="385.8" stroke="#2a2afa" stroke-width="1.45" />
<line x1="488.68" y1="337.38" x2="488.68" y2="385.8" stroke="#2a2afa" stroke-width="1.45" />
<line x1="491.64" y1="337.38" x2="491.64" y2="385.8" stroke="#2a2afa" stroke-width="1.45" />
<line x1="494.6" y1="337.38" x2="494.6" y2="385.8" stroke="#2a2afa" stroke-width="1.45" />
<line x1="470.4" y1="385.7" x2="495.1" y2="385.7" stroke="#2a2afa" stroke-width="0.8" />
<rect x="498.9" y="310.25" width="25.7" height="75.25" fill="#d4f2ea"/>
<line x1="498.9" y1="310.25" x2="498.9" y2="385.8" stroke="#12a883" stroke-width="1.45" />
<line x1="501.76" y1="310.25" x2="501.76" y2="385.8" stroke="#12a883" stroke-width="1.45" />
<line x1="504.61" y1="310.25" x2="504.61" y2="385.8" stroke="#12a883" stroke-width="1.45" />
<line x1="507.47" y1="310.25" x2="507.47" y2="385.8" stroke="#12a883" stroke-width="1.45" />
<line x1="510.32" y1="310.25" x2="510.32" y2="385.8" stroke="#12a883" stroke-width="1.45" />
<line x1="513.18" y1="310.25" x2="513.18" y2="385.8" stroke="#12a883" stroke-width="1.45" />
<line x1="516.03" y1="310.25" x2="516.03" y2="385.8" stroke="#12a883" stroke-width="1.45" />
<line x1="518.89" y1="310.25" x2="518.89" y2="385.8" stroke="#12a883" stroke-width="1.45" />
<line x1="521.74" y1="310.25" x2="521.74" y2="385.8" stroke="#12a883" stroke-width="1.45" />
<line x1="524.6" y1="310.25" x2="524.6" y2="385.8" stroke="#12a883" stroke-width="1.45" />
<line x1="498.4" y1="385.7" x2="525.1" y2="385.7" stroke="#12a883" stroke-width="0.8" />
<rect x="401.2" y="293.2" width="130.3" height="95.9" fill="none" stroke="#2a2a2a" stroke-width="1.3"/>
<line x1="399.8" y1="385.5" x2="401.2" y2="385.5" stroke="#222" stroke-width="0.9" />
<text x="398.2" y="387.8" font-size="6.6" fill="#222" stroke="#222" stroke-width="0.4" font-weight="bold" text-anchor="end" font-family='"Liberation Sans",sans-serif' >0</text>
<line x1="399.8" y1="368" x2="401.2" y2="368" stroke="#222" stroke-width="0.9" />
<text x="398.2" y="370.3" font-size="6.6" fill="#222" stroke="#222" stroke-width="0.4" font-weight="bold" text-anchor="end" font-family='"Liberation Sans",sans-serif' >40</text>
<line x1="399.8" y1="350.5" x2="401.2" y2="350.5" stroke="#222" stroke-width="0.9" />
<text x="398.2" y="352.8" font-size="6.6" fill="#222" stroke="#222" stroke-width="0.4" font-weight="bold" text-anchor="end" font-family='"Liberation Sans",sans-serif' >80</text>
<line x1="399.8" y1="333" x2="401.2" y2="333" stroke="#222" stroke-width="0.9" />
<text x="398.2" y="335.3" font-size="6.6" fill="#222" stroke="#222" stroke-width="0.4" font-weight="bold" text-anchor="end" font-family='"Liberation Sans",sans-serif' >120</text>
<line x1="399.8" y1="315.5" x2="401.2" y2="315.5" stroke="#222" stroke-width="0.9" />
<text x="398.2" y="317.8" font-size="6.6" fill="#222" stroke="#222" stroke-width="0.4" font-weight="bold" text-anchor="end" font-family='"Liberation Sans",sans-serif' >160</text>
<line x1="399.8" y1="298" x2="401.2" y2="298" stroke="#222" stroke-width="0.9" />
<text x="398.2" y="300.3" font-size="6.6" fill="#222" stroke="#222" stroke-width="0.4" font-weight="bold" text-anchor="end" font-family='"Liberation Sans",sans-serif' >200</text>
<line x1="400.4" y1="376.75" x2="401.2" y2="376.75" stroke="#222" stroke-width="0.8" />
<line x1="400.4" y1="359.25" x2="401.2" y2="359.25" stroke="#222" stroke-width="0.8" />
<line x1="400.4" y1="341.75" x2="401.2" y2="341.75" stroke="#222" stroke-width="0.8" />
<line x1="400.4" y1="324.25" x2="401.2" y2="324.25" stroke="#222" stroke-width="0.8" />
<line x1="400.4" y1="306.75" x2="401.2" y2="306.75" stroke="#222" stroke-width="0.8" />
<line x1="408" y1="389.1" x2="408" y2="390.5" stroke="#222" stroke-width="0.9" />
<text x="408" y="397.6" font-size="6.6" fill="#222" stroke="#222" stroke-width="0.4" font-weight="bold" text-anchor="middle" font-family='"Liberation Sans",sans-serif' >0</text>
<line x1="435.45" y1="389.1" x2="435.45" y2="390.5" stroke="#222" stroke-width="0.9" />
<text x="435.45" y="397.6" font-size="6.6" fill="#222" stroke="#222" stroke-width="0.4" font-weight="bold" text-anchor="middle" font-family='"Liberation Sans",sans-serif' >10</text>
<line x1="462.9" y1="389.1" x2="462.9" y2="390.5" stroke="#222" stroke-width="0.9" />
<text x="462.9" y="397.6" font-size="6.6" fill="#222" stroke="#222" stroke-width="0.4" font-weight="bold" text-anchor="middle" font-family='"Liberation Sans",sans-serif' >20</text>
<line x1="490.35" y1="389.1" x2="490.35" y2="390.5" stroke="#222" stroke-width="0.9" />
<text x="490.35" y="397.6" font-size="6.6" fill="#222" stroke="#222" stroke-width="0.4" font-weight="bold" text-anchor="middle" font-family='"Liberation Sans",sans-serif' >30</text>
<line x1="517.8" y1="389.1" x2="517.8" y2="390.5" stroke="#222" stroke-width="0.9" />
<text x="517.8" y="397.6" font-size="6.6" fill="#222" stroke="#222" stroke-width="0.4" font-weight="bold" text-anchor="middle" font-family='"Liberation Sans",sans-serif' >40</text>
<line x1="421.73" y1="389.1" x2="421.73" y2="389.9" stroke="#222" stroke-width="0.8" />
<line x1="449.18" y1="389.1" x2="449.18" y2="389.9" stroke="#222" stroke-width="0.8" />
<line x1="476.62" y1="389.1" x2="476.62" y2="389.9" stroke="#222" stroke-width="0.8" />
<line x1="504.07" y1="389.1" x2="504.07" y2="389.9" stroke="#222" stroke-width="0.8" />
<text x="465.1" y="405.8" font-size="8.2" fill="#111" stroke="#111" stroke-width="0.22" font-weight="bold" text-anchor="middle" font-family='"Liberation Sans",sans-serif' >Time/s</text>
<text transform="translate(380.5,339.3) rotate(-90)" font-size="8.2" fill="#111" stroke="#111" stroke-width="0.2" font-weight="bold" text-anchor="middle" font-family='"Liberation Sans",sans-serif' textLength="86.5" lengthAdjust="spacing">Charge density/ <tspan font-size="5" font-weight="normal" dy="1">μ</tspan><tspan dy="-1">C/m</tspan><tspan font-size="4.4" dy="-2.6">2</tspan></text>
<line x1="403.5" y1="322" x2="412.7" y2="322" stroke="#383838" stroke-width="1" />
<text x="415.5" y="323.9" font-size="5.4" fill="#222" stroke="#222" stroke-width="0.4" font-weight="bold" text-anchor="start" font-family='"Liberation Sans",sans-serif' >PDMS</text>
<line x1="403.5" y1="330" x2="412.7" y2="330" stroke="#f0344e" stroke-width="1" />
<text x="415.5" y="331.9" font-size="5.6" fill="#222" stroke="#222" stroke-width="0.4" font-weight="bold" text-anchor="start" font-family='"Liberation Sans",sans-serif' >F<tspan font-size="3.4" dy="2.3" dx="0.3">13</tspan><tspan dy="-2.3" dx="0.3"> SAM</tspan></text>
<line x1="403.5" y1="338.5" x2="412.7" y2="338.5" stroke="#4646f2" stroke-width="1" />
<text x="415.5" y="340.4" font-size="5.6" fill="#222" stroke="#222" stroke-width="0.4" font-weight="bold" text-anchor="start" font-family='"Liberation Sans",sans-serif' >F<tspan font-size="3.4" dy="2.3" dx="0.3">17</tspan><tspan dy="-2.3" dx="0.3"> SAM</tspan></text>
<line x1="403.5" y1="347" x2="412.7" y2="347" stroke="#1eba92" stroke-width="1" />
<text x="415.5" y="348.9" font-size="5.6" fill="#222" stroke="#222" stroke-width="0.4" font-weight="bold" text-anchor="start" font-family='"Liberation Sans",sans-serif' >F<tspan font-size="3.4" dy="2.3" dx="0.3">21</tspan><tspan dy="-2.3" dx="0.3"> SAM</tspan></text>
</svg>
</body></html>
